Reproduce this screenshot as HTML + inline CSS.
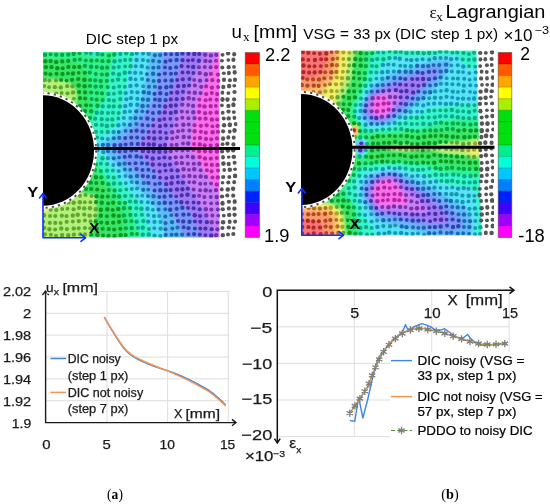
<!DOCTYPE html>
<html><head><meta charset="utf-8"><title>Figure</title>
<style>html,body{margin:0;padding:0;background:#fff;overflow:hidden}svg{display:block}
text{font-family:"Liberation Sans",sans-serif;fill:#000}
.ser{font-family:"Liberation Serif",serif}
.cal{fill:#1a1a1a;stroke:#1a1a1a;stroke-width:0.25px}
.leg{stroke:#000;stroke-width:0.2px}
</style></head><body>
<svg width="550" height="504" viewBox="0 0 550 504">
<rect width="550" height="504" fill="#fff"/>
<defs><filter id="bl" x="-5%" y="-5%" width="110%" height="110%"><feGaussianBlur stdDeviation="0.6"/></filter><filter id="bl2" x="-5%" y="-5%" width="110%" height="110%"><feGaussianBlur stdDeviation="0.9"/></filter></defs>
<!-- left DIC map -->
<clipPath id="cf1"><path d="M43,52 L219.5,52 L219.5,237.5 L43,237.5 Z"/></clipPath>
<clipPath id="cp1"><rect x="43" y="52" width="194.5" height="185.5"/></clipPath>
<g clip-path="url(#cf1)"><g filter="url(#bl2)"><path fill="#f0f06c" stroke="#f0f06c" stroke-width="0.4" fill-rule="evenodd" d="M42.5,96 51,99.8 59.5,102 60.3,103 60.4,104 59.2,107 52.4,119 48.5,128 45.7,138 44.1,149 44.1,159 45.3,169 47.5,179 52.6,196 53.3,200 53.3,203 52.5,206 50.5,209 42,214.8 42,95.8Z"/>
<path fill="#b4f07c" stroke="#b4f07c" stroke-width="0.4" fill-rule="evenodd" d="M43,78 61,80.2 67.8,82 71,84.1 74,87.1 76,90.3 77,93 77,98 76,104 74,107.9 64.9,122 60.2,133 58.1,143 57.9,153 59.2,161 61.9,169 65.6,176 71,183 77,188.8 83,192.8 86,193.9 94,194.5 95.3,195 96.3,196 96.5,198 96,203 97.4,210 97.3,213 93.5,224 92,230.6 89.2,239 42,239 42,214.8 50.5,209 52.5,206 53.4,202 52.6,196 47.3,178 45,167 44,155 44.6,144 46.4,135 49.3,126 52.4,119 59.2,107 60.4,104 60.3,103 59.5,102 51,99.8 42,95.8 42,78Z"/>
<path fill="#38e468" stroke="#38e468" stroke-width="0.4" fill-rule="evenodd" d="M43,70.8 60,71.8 70,73.3 76,75.7 77.3,77 78.8,80 81.4,92 81.1,102 79.6,108 72.7,123 69.4,133 67.7,143 68,152 69.4,158 71.7,164 74.7,169 78.7,174 83,178.1 88.1,182 102,189.4 104,191.3 105.2,212 104,217 100,225.1 99.8,228 100.5,239 89.2,239 92,230.6 93.5,224 97.3,213 97.4,210 96,203 96.5,198 96.3,196 95.3,195 94,194.5 86,193.9 83,192.8 77.3,189 72,184.1 67,178 63,171.4 60,164 58.3,157 57.8,146 59.6,135 61.6,129 64.4,123 74,107.9 76,104 77.1,97 76.7,92 75,88.5 73,86 70,83.3 67,81.7 60,80 42,78 42,70.7Z"/>
<path fill="#38e468" stroke="#38e468" stroke-width="0.4" fill-rule="evenodd" d="M43,64.6 62,65.5 73,67.6 76,68.7 79,70.5 81.3,73 83,76 84.4,81 85.1,87 85.5,95 85.2,102 84.2,108 79.5,122 76.9,133 75.7,143 76.3,151 78.8,159 82.9,166 96.5,181 104,187.6 106.5,191 112.4,210 113.2,214 113.2,218 111.6,229 112.8,239 100.5,239 99.8,228 100,225.1 104,217 105.2,212 104.4,194 103.9,191 101.4,189 93.1,185 88.1,182 79.7,175 76,170.8 72.8,166 70.4,161 68.6,155 67.6,145 69.1,134 72.3,124 79.6,108 81.3,101 81.6,96 81.3,91 78.4,79 77,76.6 75,75.1 69,73.1 59,71.7 42,70.7 42,64.5Z"/>
<path fill="#38e468" stroke="#38e468" stroke-width="0.4" fill-rule="evenodd" d="M43,58 64,58.9 78,62.5 81,64.3 83,66.4 88.3,76 89.3,79 89.9,83 90,103 89.2,108 85.8,120 83.5,138 83.1,146 84,152 85.7,157 88.4,162 95,170 109.7,192 113,198.1 123,212 123.8,215 124.7,223 127.3,239 112.8,239 111.6,229 113.2,218 113.2,214 112.4,210 106.5,191 104,187.6 96.5,181 83.7,167 79.7,161 77,154 75.7,145 76.5,135 79.2,123 84.2,108 85.3,101 85.5,94 84.9,85 83.9,79 82.5,75 81,72.5 78.3,70 76,68.7 72,67.4 62,65.5 42,64.5 42,57.8Z"/>
<path fill="#30f090" stroke="#30f090" stroke-width="0.4" fill-rule="evenodd" d="M43,51 72.9,51 82,52.5 93,55.8 96,56.2 99,55.5 105.8,51 114.3,51 115,52 115,55 112.7,63 106,99.1 105,101.1 94.1,115 93,117 93.7,130 90.3,142 90,148 91.3,153 95,160.3 109.7,181 111.2,185 115,188.4 123.2,200 128,205.2 130.6,209 133.1,215 140.5,239 127.3,239 124.7,223 123.8,215 123,212 113,198.1 109.7,192 95,170 88.4,162 84.6,154 83.1,147 83.3,140 85.8,120 89.2,108 90,103 89.9,82 89.3,79 87.8,75 83,66.4 81,64.3 78,62.5 64,58.9 42,57.8 42,51Z"/>
<path fill="#38f4d0" stroke="#38f4d0" stroke-width="0.4" fill-rule="evenodd" d="M73,51 105.8,51 99,55.5 96,56.2 93,55.8 82,52.5ZM115,51 134.1,51 124.2,97 120,114 118.8,122 116.7,125 99,139.7 96.1,144 95.9,148 98,151.9 137.2,200 142.3,207 145.7,214 152.6,239 140.5,239 133.1,215 130.6,209 128,205.2 123.2,200 115,188.4 111.2,185 109.7,181 95.4,161 91.8,154 90.1,149 90.1,143 93.7,130 93,117 94.1,115 105,101.1 106,99.1 112.7,63 115,55 115,52.1 114.3,51Z"/>
<path fill="#58e4f8" stroke="#58e4f8" stroke-width="0.4" fill-rule="evenodd" d="M135,51 151.1,51 141.3,100 128,124 109.8,139 102.4,144 101,146 102,148 150,199.9 153.2,204 158.4,213 166.8,239 152.6,239 145.7,214 142.3,207 137.2,200 98,151.9 95.9,148 96.1,144 99,139.7 116.7,125 118.8,122 120,114 124.2,97 134.1,51Z"/>
<path fill="#60bcf8" stroke="#60bcf8" stroke-width="0.4" fill-rule="evenodd" d="M151,52 151.1,51 164.3,51 152.8,100 138,124 118,142.5 113,146 112,148 113.3,150 119,155.2 161.1,199 166.4,205 172.6,214 184.9,239 166.8,239 158.4,213 153.2,204 150,199.9 102,148 101,146 102.4,144 109.8,139 128,124 140.3,102 142.1,97Z"/>
<path fill="#7c98f8" stroke="#7c98f8" stroke-width="0.4" fill-rule="evenodd" d="M165,51 185.4,51 168,100 152.3,125 141,141.6 137.3,146 136.6,148 136.8,149 138.1,151 142,154.9 173,195 190.6,212 201.7,239 184.9,239 172.6,214 166.4,205 161.1,199 119,155.2 113.3,150 112,148 113,146 118,142.5 138,124 152.3,101 153.7,97 164,52 164.3,51Z"/>
<path fill="#a07cf4" stroke="#a07cf4" stroke-width="0.4" fill-rule="evenodd" d="M186,51 206.3,51 205,54.4 183,100 168.8,139 166.2,145 165.7,148 167,150.9 170,155 204.1,211 215.8,239 201.7,239 190.6,212 172.2,194 142,154.9 137.3,150 136.6,148 137.3,146 141,141.6 153,124 168,100 185.4,51Z"/>
<path fill="#c880f4" stroke="#c880f4" stroke-width="0.4" fill-rule="evenodd" d="M206,52 206.3,51 218.4,51 208,80 198,100 192.5,138 191,145 191,148 192.4,151 196,156.3 219,195 232.8,239 215.8,239 204.1,211 170,155 167,150.9 165.7,148 166.2,145 168.8,139 183,100Z"/>
<path fill="#f870ec" stroke="#f870ec" stroke-width="0.4" fill-rule="evenodd" d="M219,51 236.2,51 217.9,147 219,150.3 223,156.3 239,183.3 239,239 232.8,239 219,195 196,156.3 192.4,151 191,147.9 191,145 192.5,138 198,100 208,80 218.4,51Z"/>
<path fill="#f870ec" stroke="#f870ec" stroke-width="0.4" fill-rule="evenodd" d="M237,51 239,51 239,183.3 223,156.3 219,150.3 217.9,147 235.8,53 236.2,51Z"/></g></g>
<g clip-path="url(#cp1)">
<g filter="url(#bl)">
<g fill="#07a73c"><circle cx="45" cy="54.8" r="2.2"/><circle cx="50.5" cy="54.3" r="1.9"/><circle cx="56.2" cy="54.8" r="2.1"/><circle cx="62.1" cy="54.9" r="2.1"/><circle cx="68.3" cy="54.7" r="2.1"/><circle cx="73.7" cy="53.7" r="2.2"/><circle cx="79.5" cy="53.3" r="1.9"/><circle cx="102.3" cy="54.5" r="2"/><circle cx="109" cy="55.4" r="2"/><circle cx="114.3" cy="54.5" r="2.2"/><circle cx="74.6" cy="59.9" r="2.1"/><circle cx="79.9" cy="59.6" r="2"/><circle cx="85.8" cy="60.4" r="1.9"/><circle cx="91.3" cy="60.7" r="2.1"/><circle cx="96.9" cy="60.4" r="1.9"/><circle cx="102.4" cy="61.2" r="2.1"/><circle cx="108.5" cy="61.1" r="2.2"/><circle cx="85" cy="65.9" r="2.1"/><circle cx="91.1" cy="66.7" r="2.2"/><circle cx="96.7" cy="67.1" r="2"/><circle cx="102" cy="67.8" r="2.2"/><circle cx="107.2" cy="67.7" r="2.1"/><circle cx="89.8" cy="72.6" r="2.1"/><circle cx="95.8" cy="74" r="1.9"/><circle cx="101.9" cy="74.4" r="2"/><circle cx="107" cy="74.5" r="2.2"/><circle cx="90.1" cy="80.1" r="2"/><circle cx="95.2" cy="80.3" r="2.1"/><circle cx="100.7" cy="80.9" r="2.2"/><circle cx="106.9" cy="80.9" r="2.1"/><circle cx="90" cy="86" r="2.1"/><circle cx="95.6" cy="86.6" r="2.2"/><circle cx="101.1" cy="86.6" r="2.1"/><circle cx="107.7" cy="87.1" r="2.1"/><circle cx="91.1" cy="92.5" r="2.1"/><circle cx="96.9" cy="93" r="2.1"/><circle cx="102" cy="93.4" r="2.1"/><circle cx="91.7" cy="99" r="1.9"/><circle cx="96.7" cy="99.7" r="2.1"/><circle cx="102.6" cy="100.1" r="2.1"/><circle cx="90.9" cy="105.4" r="2"/><circle cx="97.5" cy="105.7" r="2.2"/><circle cx="91.2" cy="111.3" r="2.2"/><circle cx="89.9" cy="117.9" r="2.1"/><circle cx="95.9" cy="164.4" r="2.1"/><circle cx="95.1" cy="170.1" r="2"/><circle cx="100.9" cy="170.9" r="1.9"/><circle cx="101.4" cy="177.4" r="2.1"/><circle cx="108.4" cy="184.2" r="2.1"/><circle cx="108.8" cy="190" r="1.9"/><circle cx="114.6" cy="190.4" r="2.1"/><circle cx="114" cy="196.2" r="2.2"/><circle cx="119.3" cy="196.5" r="2.2"/><circle cx="119.4" cy="203" r="2.1"/><circle cx="125" cy="202.8" r="2.1"/><circle cx="124" cy="208.3" r="2.2"/><circle cx="130.1" cy="208.1" r="2.1"/><circle cx="124" cy="215.4" r="2.2"/><circle cx="130.4" cy="214.9" r="2.1"/><circle cx="125.4" cy="221.3" r="2.2"/><circle cx="131.4" cy="221.2" r="1.9"/><circle cx="125.9" cy="228.3" r="2.1"/><circle cx="131.7" cy="228.1" r="2.2"/><circle cx="131.8" cy="233.9" r="2.1"/><circle cx="137.1" cy="234" r="1.9"/></g>
<g fill="#09ad7e"><circle cx="86.1" cy="53.1" r="2"/><circle cx="90.8" cy="53.4" r="2"/><circle cx="97.6" cy="54" r="2.2"/><circle cx="120.3" cy="53.9" r="2.1"/><circle cx="126.2" cy="53.4" r="2.1"/><circle cx="131.9" cy="54.2" r="2.1"/><circle cx="114.5" cy="61.2" r="2.2"/><circle cx="120.1" cy="60.7" r="2"/><circle cx="125.1" cy="60.1" r="2"/><circle cx="130.5" cy="59.8" r="2.1"/><circle cx="113.7" cy="67.6" r="2.1"/><circle cx="118.9" cy="67.1" r="2"/><circle cx="125.1" cy="66.3" r="1.9"/><circle cx="130.6" cy="66.3" r="2.2"/><circle cx="113.2" cy="73.6" r="2.1"/><circle cx="119" cy="74.4" r="2.2"/><circle cx="124.7" cy="72.8" r="2.2"/><circle cx="112.5" cy="80.5" r="2"/><circle cx="118.1" cy="79.6" r="2.2"/><circle cx="124.8" cy="80" r="2"/><circle cx="113.7" cy="87.4" r="2"/><circle cx="119.3" cy="86.6" r="2"/><circle cx="124.9" cy="86.8" r="2"/><circle cx="108.4" cy="93.9" r="2.2"/><circle cx="113.9" cy="93.7" r="1.9"/><circle cx="120.1" cy="92.6" r="2.2"/><circle cx="108.9" cy="100.1" r="2.1"/><circle cx="113.9" cy="100.5" r="2.1"/><circle cx="120.3" cy="99.1" r="2.2"/><circle cx="102.7" cy="106.4" r="2.1"/><circle cx="108.9" cy="106.4" r="2.1"/><circle cx="113.7" cy="106.4" r="2.1"/><circle cx="119.9" cy="106.4" r="2.2"/><circle cx="96.8" cy="112.8" r="2.2"/><circle cx="101.9" cy="112.8" r="2.2"/><circle cx="108" cy="113" r="2"/><circle cx="113" cy="112.8" r="2"/><circle cx="118.7" cy="112.9" r="2"/><circle cx="95.2" cy="118.7" r="2.1"/><circle cx="101.7" cy="119.2" r="2.1"/><circle cx="107.3" cy="119.4" r="2"/><circle cx="112.3" cy="119.4" r="2.1"/><circle cx="118.4" cy="118.5" r="1.9"/><circle cx="96" cy="124.7" r="2"/><circle cx="101.9" cy="125" r="2.1"/><circle cx="106.9" cy="126" r="2.2"/><circle cx="112.7" cy="125.5" r="2.1"/><circle cx="95.9" cy="131.9" r="2.1"/><circle cx="101.7" cy="131.9" r="1.9"/><circle cx="107.8" cy="132" r="2.2"/><circle cx="96.9" cy="137.5" r="2.1"/><circle cx="102.5" cy="158.3" r="2.2"/><circle cx="100.9" cy="163.7" r="1.9"/><circle cx="107.2" cy="164.1" r="2.1"/><circle cx="107.1" cy="170.7" r="2.1"/><circle cx="112.9" cy="170.6" r="2"/><circle cx="108.2" cy="177.1" r="2"/><circle cx="113.7" cy="177.7" r="2.1"/><circle cx="114" cy="183.5" r="2.2"/><circle cx="120.2" cy="183.6" r="2.1"/><circle cx="120.2" cy="190.2" r="2"/><circle cx="126.4" cy="189.4" r="1.9"/><circle cx="125.2" cy="196.1" r="2.1"/><circle cx="131.4" cy="195.8" r="2"/><circle cx="130" cy="201.5" r="2.1"/><circle cx="135.8" cy="201.7" r="2.2"/><circle cx="136.4" cy="208.3" r="2"/><circle cx="141.5" cy="208.8" r="2.2"/><circle cx="135.7" cy="214.9" r="1.9"/><circle cx="141.9" cy="214.8" r="2"/><circle cx="136.7" cy="221.6" r="2.2"/><circle cx="143.3" cy="221.1" r="2.1"/><circle cx="137.9" cy="227.9" r="2"/><circle cx="142.8" cy="227.7" r="2.2"/><circle cx="149" cy="229" r="1.9"/><circle cx="142.8" cy="234.6" r="2.2"/><circle cx="148.8" cy="234.5" r="2.2"/></g>
<g fill="#1697b2"><circle cx="136.7" cy="53.5" r="2"/><circle cx="143.1" cy="53.4" r="2"/><circle cx="148.7" cy="53.7" r="2.2"/><circle cx="136.6" cy="60" r="2.2"/><circle cx="142.9" cy="60" r="2"/><circle cx="148" cy="60.8" r="2"/><circle cx="135.7" cy="66.3" r="2"/><circle cx="141.8" cy="66.3" r="2.2"/><circle cx="147.6" cy="67.6" r="2.1"/><circle cx="129.8" cy="72.5" r="2.1"/><circle cx="135.2" cy="72.8" r="2.1"/><circle cx="141" cy="72.9" r="1.9"/><circle cx="130.5" cy="78.8" r="2.2"/><circle cx="135.6" cy="79.4" r="1.9"/><circle cx="142.1" cy="79" r="2.1"/><circle cx="130.4" cy="85.9" r="2.2"/><circle cx="136.6" cy="85.3" r="2.1"/><circle cx="143.1" cy="86.3" r="2"/><circle cx="125.7" cy="93.1" r="2.1"/><circle cx="131.7" cy="92" r="2"/><circle cx="137.4" cy="92.3" r="2.1"/><circle cx="126.3" cy="99.3" r="2.1"/><circle cx="131" cy="98.2" r="2.1"/><circle cx="137.4" cy="98.8" r="2.1"/><circle cx="125.3" cy="106.1" r="2.2"/><circle cx="130.8" cy="104.8" r="2.2"/><circle cx="137.3" cy="104.7" r="2.2"/><circle cx="124.7" cy="111.9" r="2.2"/><circle cx="130" cy="111.5" r="1.9"/><circle cx="123.8" cy="117.9" r="2"/><circle cx="130.4" cy="118.1" r="2.1"/><circle cx="118.4" cy="125.3" r="2.2"/><circle cx="124.2" cy="124.4" r="2.1"/><circle cx="113.6" cy="132" r="2.2"/><circle cx="102.3" cy="138.6" r="2"/><circle cx="107.8" cy="139" r="2"/><circle cx="97.5" cy="144.9" r="2"/><circle cx="97.6" cy="150.4" r="1.9"/><circle cx="103.3" cy="152" r="2.2"/><circle cx="107.9" cy="158.2" r="2.1"/><circle cx="113.3" cy="165" r="1.9"/><circle cx="118.7" cy="171" r="2.1"/><circle cx="119.3" cy="176.6" r="1.9"/><circle cx="125.4" cy="176.1" r="2"/><circle cx="125.8" cy="183.1" r="1.9"/><circle cx="131.7" cy="182.1" r="2"/><circle cx="131.8" cy="188.9" r="2"/><circle cx="137.1" cy="188.5" r="2.1"/><circle cx="137.1" cy="195.9" r="1.9"/><circle cx="142.2" cy="195.7" r="1.9"/><circle cx="141.5" cy="201.9" r="2"/><circle cx="147.9" cy="202.3" r="2"/><circle cx="147.5" cy="208.8" r="2.2"/><circle cx="152.9" cy="209.7" r="1.9"/><circle cx="148.1" cy="215.1" r="1.9"/><circle cx="153.9" cy="216.1" r="2.1"/><circle cx="159.2" cy="216.1" r="2"/><circle cx="148.2" cy="221.7" r="2.1"/><circle cx="154.5" cy="221.9" r="2.1"/><circle cx="160.4" cy="222.1" r="2"/><circle cx="154.3" cy="228.2" r="1.9"/><circle cx="160.6" cy="228.6" r="2.2"/><circle cx="154.5" cy="235.5" r="2.1"/><circle cx="160.4" cy="236" r="2.1"/></g>
<g fill="#1b67b2"><circle cx="154.9" cy="55.2" r="2"/><circle cx="160.1" cy="55.1" r="2.1"/><circle cx="153.1" cy="60.8" r="2"/><circle cx="159.2" cy="61.5" r="2"/><circle cx="153.3" cy="67.7" r="2"/><circle cx="158.6" cy="67.4" r="2.1"/><circle cx="146.9" cy="74.1" r="1.9"/><circle cx="153.1" cy="73.8" r="2.2"/><circle cx="147.9" cy="80" r="2"/><circle cx="153.6" cy="80.9" r="2"/><circle cx="149" cy="86.8" r="2"/><circle cx="154.8" cy="86.8" r="2"/><circle cx="143.7" cy="92.3" r="2.2"/><circle cx="148.9" cy="92.9" r="2.2"/><circle cx="142.8" cy="99.4" r="2.1"/><circle cx="148.1" cy="99.7" r="2.2"/><circle cx="142.6" cy="106" r="2.2"/><circle cx="148" cy="105.9" r="1.9"/><circle cx="136.3" cy="111.3" r="2.1"/><circle cx="142.3" cy="111.3" r="1.9"/><circle cx="135.5" cy="118.2" r="2.1"/><circle cx="141" cy="118.3" r="2"/><circle cx="130" cy="124.8" r="2.1"/><circle cx="136.4" cy="124" r="2.1"/><circle cx="118.8" cy="132" r="1.9"/><circle cx="125.6" cy="130.9" r="1.9"/><circle cx="113.8" cy="138.2" r="2"/><circle cx="119.3" cy="137.9" r="2.1"/><circle cx="102.9" cy="144.8" r="2.1"/><circle cx="108.1" cy="144.9" r="2.2"/><circle cx="108.1" cy="151.2" r="2"/><circle cx="114.2" cy="151.5" r="2.1"/><circle cx="113.7" cy="158.3" r="2.1"/><circle cx="119.1" cy="157.6" r="1.9"/><circle cx="119.2" cy="164.2" r="2.2"/><circle cx="124.6" cy="163.6" r="2.2"/><circle cx="124.9" cy="169.5" r="1.9"/><circle cx="130.3" cy="169.8" r="2"/><circle cx="130.6" cy="176.6" r="2.2"/><circle cx="137" cy="176" r="2.2"/><circle cx="137" cy="182.6" r="2"/><circle cx="143.7" cy="183" r="2.1"/><circle cx="143.2" cy="189.8" r="2.1"/><circle cx="148.3" cy="189.6" r="1.9"/><circle cx="148" cy="196.1" r="1.9"/><circle cx="153.6" cy="196.2" r="2.2"/><circle cx="152.8" cy="202.9" r="2"/><circle cx="159.2" cy="203.1" r="2.2"/><circle cx="158.6" cy="209.6" r="2"/><circle cx="165.3" cy="209.3" r="2"/><circle cx="165.3" cy="216.4" r="2"/><circle cx="171.3" cy="215.2" r="1.9"/><circle cx="165.5" cy="223.1" r="2.1"/><circle cx="172" cy="222.1" r="2.2"/><circle cx="165.5" cy="229.3" r="2"/><circle cx="172.3" cy="228.4" r="2"/><circle cx="177.5" cy="227.6" r="2.1"/><circle cx="165.7" cy="234.9" r="2.1"/><circle cx="171.6" cy="234.8" r="2"/><circle cx="176.4" cy="234.6" r="2.2"/><circle cx="182.1" cy="234.6" r="2.1"/></g>
<g fill="#2d43b2"><circle cx="165.6" cy="54.2" r="1.9"/><circle cx="171.2" cy="54.3" r="2"/><circle cx="177" cy="54.1" r="2.2"/><circle cx="182.4" cy="53.5" r="2.2"/><circle cx="165.5" cy="61.7" r="2.1"/><circle cx="170.4" cy="60.5" r="2.1"/><circle cx="176.6" cy="59.9" r="2.2"/><circle cx="165" cy="67.4" r="1.9"/><circle cx="170.2" cy="67.9" r="2"/><circle cx="176.1" cy="67.2" r="2"/><circle cx="159" cy="74.5" r="2.1"/><circle cx="164.9" cy="73.6" r="2.1"/><circle cx="171" cy="73.8" r="2"/><circle cx="175.9" cy="73.5" r="2.1"/><circle cx="159.1" cy="80.9" r="2.1"/><circle cx="165.4" cy="80.6" r="2"/><circle cx="171.6" cy="80.4" r="2.2"/><circle cx="160" cy="87.6" r="2.2"/><circle cx="166.3" cy="87.2" r="2.2"/><circle cx="171.2" cy="86.6" r="2.2"/><circle cx="154.5" cy="93.8" r="2.1"/><circle cx="160.2" cy="93.2" r="2.2"/><circle cx="166.5" cy="93.9" r="2"/><circle cx="154.9" cy="99.4" r="2"/><circle cx="159.6" cy="100" r="2.2"/><circle cx="165.6" cy="100.2" r="2.1"/><circle cx="154.2" cy="106.1" r="2"/><circle cx="159.5" cy="106.1" r="2"/><circle cx="147.5" cy="111.8" r="1.9"/><circle cx="152.9" cy="113.1" r="2"/><circle cx="159.3" cy="112.5" r="2.2"/><circle cx="147.4" cy="118.5" r="2.2"/><circle cx="153.2" cy="119.5" r="1.9"/><circle cx="142.4" cy="125" r="2"/><circle cx="148" cy="125.6" r="2"/><circle cx="131.2" cy="131" r="1.9"/><circle cx="136.6" cy="130.6" r="2.2"/><circle cx="142.7" cy="131.4" r="2.2"/><circle cx="125.2" cy="138" r="2"/><circle cx="131.3" cy="137.6" r="2.1"/><circle cx="137.1" cy="137.6" r="2"/><circle cx="143.1" cy="138.2" r="2"/><circle cx="114.5" cy="145.1" r="2.2"/><circle cx="120.4" cy="145.1" r="2.1"/><circle cx="125.6" cy="144.5" r="2"/><circle cx="131.5" cy="143.9" r="2.1"/><circle cx="137.8" cy="143.9" r="2.1"/><circle cx="119.5" cy="151.5" r="2"/><circle cx="125.3" cy="151.1" r="2.2"/><circle cx="131.3" cy="150.6" r="2.1"/><circle cx="136.2" cy="150.1" r="2.2"/><circle cx="124.7" cy="157" r="2"/><circle cx="130" cy="156.4" r="2.1"/><circle cx="136.6" cy="156.4" r="2.2"/><circle cx="141.2" cy="157.2" r="1.9"/><circle cx="129.5" cy="163.6" r="1.9"/><circle cx="135.5" cy="163.3" r="2"/><circle cx="141.9" cy="163.2" r="2"/><circle cx="147.3" cy="163.7" r="2.1"/><circle cx="136.5" cy="169.1" r="2.1"/><circle cx="142.5" cy="170.1" r="2"/><circle cx="148.4" cy="169.8" r="2"/><circle cx="153.8" cy="171" r="1.9"/><circle cx="142.8" cy="176.1" r="2.1"/><circle cx="148" cy="176.4" r="2"/><circle cx="154" cy="177" r="2.2"/><circle cx="148.4" cy="183" r="2.1"/><circle cx="155" cy="184.1" r="1.9"/><circle cx="159.8" cy="183.5" r="2.1"/><circle cx="154.5" cy="190.4" r="2"/><circle cx="160.3" cy="190.2" r="2.2"/><circle cx="165.8" cy="190.2" r="2.2"/><circle cx="159.3" cy="197" r="2"/><circle cx="164.5" cy="196.7" r="2.1"/><circle cx="170.7" cy="196" r="2.1"/><circle cx="164.7" cy="202.7" r="2.2"/><circle cx="170.6" cy="203" r="2"/><circle cx="176.4" cy="202" r="1.9"/><circle cx="170.2" cy="209.8" r="2.2"/><circle cx="176.7" cy="208.8" r="2.1"/><circle cx="182.4" cy="207.8" r="2.2"/><circle cx="176.6" cy="215" r="2"/><circle cx="183.4" cy="214.6" r="2.2"/><circle cx="188.8" cy="214.6" r="2"/><circle cx="178" cy="221.1" r="2"/><circle cx="183.2" cy="221.4" r="2.2"/><circle cx="189.5" cy="221.8" r="2.2"/><circle cx="183.6" cy="227.3" r="2"/><circle cx="188.5" cy="228.2" r="2.1"/><circle cx="194.9" cy="228.4" r="2"/><circle cx="188.5" cy="234.2" r="2"/><circle cx="194.1" cy="234.1" r="2.1"/><circle cx="199.8" cy="234.6" r="2.1"/></g>
<g fill="#4a2dad"><circle cx="188.4" cy="53.8" r="2.1"/><circle cx="194.3" cy="54" r="2.2"/><circle cx="199.2" cy="54" r="2.1"/><circle cx="182.5" cy="60.2" r="2.1"/><circle cx="188.1" cy="60.5" r="2"/><circle cx="192.8" cy="60" r="2"/><circle cx="198.9" cy="60.7" r="2.2"/><circle cx="181.6" cy="66.1" r="2.1"/><circle cx="188.1" cy="66.6" r="1.9"/><circle cx="193.2" cy="66.9" r="2.2"/><circle cx="182.5" cy="72.6" r="2"/><circle cx="188.1" cy="72.6" r="2"/><circle cx="193.4" cy="73.1" r="2"/><circle cx="177.2" cy="79.9" r="2"/><circle cx="182.8" cy="79.3" r="2.1"/><circle cx="189.4" cy="79.1" r="2"/><circle cx="178.1" cy="86.2" r="2.1"/><circle cx="183.9" cy="85.9" r="2.1"/><circle cx="189.1" cy="85.5" r="2.1"/><circle cx="171.3" cy="92.8" r="2"/><circle cx="177.3" cy="92.5" r="2.2"/><circle cx="183" cy="91.7" r="2"/><circle cx="170.8" cy="99.4" r="2.1"/><circle cx="176.7" cy="99.2" r="2.1"/><circle cx="182.8" cy="98.9" r="2.1"/><circle cx="165.2" cy="106.5" r="2.2"/><circle cx="170.8" cy="105.8" r="2.2"/><circle cx="175.9" cy="105.4" r="2.1"/><circle cx="164.8" cy="112.4" r="2.2"/><circle cx="170.8" cy="112.9" r="2.1"/><circle cx="175.8" cy="111.9" r="2.2"/><circle cx="159.5" cy="119.9" r="2.1"/><circle cx="164.3" cy="119" r="1.9"/><circle cx="170.3" cy="118.8" r="1.9"/><circle cx="153.2" cy="125.4" r="2"/><circle cx="159.9" cy="126.2" r="2.1"/><circle cx="165.6" cy="125.4" r="2.1"/><circle cx="171.5" cy="125.7" r="1.9"/><circle cx="148.5" cy="131.8" r="1.9"/><circle cx="154.1" cy="131.9" r="2"/><circle cx="160.1" cy="132" r="2"/><circle cx="165.9" cy="132.8" r="1.9"/><circle cx="148.8" cy="137.8" r="2.1"/><circle cx="154.3" cy="138.5" r="2.2"/><circle cx="160.4" cy="138.3" r="2"/><circle cx="166.6" cy="138.3" r="2"/><circle cx="143.2" cy="144.1" r="2.1"/><circle cx="148.8" cy="144.4" r="2.2"/><circle cx="153.8" cy="144.5" r="2.2"/><circle cx="160.2" cy="145.6" r="2.2"/><circle cx="165.1" cy="144.9" r="2.1"/><circle cx="142.9" cy="150.9" r="2.2"/><circle cx="148.5" cy="151.6" r="1.9"/><circle cx="153.6" cy="151.6" r="2.1"/><circle cx="159.4" cy="151.8" r="2.2"/><circle cx="165.5" cy="151.7" r="2"/><circle cx="146.9" cy="157.1" r="2"/><circle cx="152.7" cy="158.5" r="2.2"/><circle cx="159" cy="158.2" r="1.9"/><circle cx="164.4" cy="157.5" r="2.1"/><circle cx="170" cy="158" r="1.9"/><circle cx="152.8" cy="164.5" r="2.2"/><circle cx="159.5" cy="164.5" r="2.1"/><circle cx="164.8" cy="165" r="2.2"/><circle cx="170" cy="164.6" r="2.1"/><circle cx="159.7" cy="171.5" r="2"/><circle cx="165.6" cy="170.6" r="1.9"/><circle cx="171.4" cy="170.2" r="2"/><circle cx="177.6" cy="170.4" r="2.2"/><circle cx="160" cy="177.8" r="2"/><circle cx="166.3" cy="177.9" r="2"/><circle cx="172.1" cy="177.2" r="2.2"/><circle cx="177.7" cy="176.7" r="1.9"/><circle cx="166.1" cy="184.2" r="2.1"/><circle cx="171.5" cy="183.2" r="2.2"/><circle cx="178" cy="182.5" r="2"/><circle cx="182.9" cy="182.6" r="2.2"/><circle cx="170.7" cy="190.1" r="2.1"/><circle cx="177" cy="189.4" r="2.2"/><circle cx="182.4" cy="189.3" r="2.2"/><circle cx="187.8" cy="188.7" r="2.1"/><circle cx="176.2" cy="196.3" r="1.9"/><circle cx="181.7" cy="195.4" r="2.1"/><circle cx="187.5" cy="194.8" r="2.2"/><circle cx="193.9" cy="196" r="2.1"/><circle cx="181.3" cy="202.3" r="2.2"/><circle cx="187.2" cy="202.4" r="2"/><circle cx="193.6" cy="202.5" r="1.9"/><circle cx="198.7" cy="202.7" r="2"/><circle cx="188" cy="208.1" r="2"/><circle cx="193.6" cy="208.3" r="2"/><circle cx="199.7" cy="209.3" r="2"/><circle cx="194.7" cy="215.2" r="2.2"/><circle cx="200" cy="216" r="2.1"/><circle cx="194.9" cy="221.5" r="2.1"/><circle cx="200.3" cy="221.8" r="2.1"/><circle cx="206.9" cy="222.1" r="2.2"/><circle cx="200.3" cy="228.4" r="2"/><circle cx="205.4" cy="228.6" r="2.1"/><circle cx="211.6" cy="229.2" r="2.1"/><circle cx="205.4" cy="235.1" r="1.9"/><circle cx="211.2" cy="235.5" r="2.2"/></g>
<g fill="#7430ad"><circle cx="205.2" cy="54.8" r="2.2"/><circle cx="210.9" cy="55.4" r="2.2"/><circle cx="216.2" cy="54.9" r="2.1"/><circle cx="205.4" cy="60.9" r="2.2"/><circle cx="210.2" cy="61.3" r="2"/><circle cx="199" cy="67.2" r="2"/><circle cx="204.8" cy="67.1" r="2"/><circle cx="210.6" cy="67.3" r="2"/><circle cx="199.7" cy="73.2" r="2.1"/><circle cx="205.8" cy="74.2" r="2.2"/><circle cx="194.2" cy="79.9" r="1.9"/><circle cx="200" cy="80.6" r="2.2"/><circle cx="206.6" cy="80.2" r="2"/><circle cx="194.9" cy="85.5" r="2"/><circle cx="201.2" cy="86.8" r="2.1"/><circle cx="189" cy="92.5" r="2.1"/><circle cx="194.8" cy="92.8" r="2.2"/><circle cx="200.6" cy="93.1" r="2.1"/><circle cx="188.7" cy="98.2" r="2.2"/><circle cx="193.6" cy="99.1" r="2"/><circle cx="182.2" cy="104.6" r="2.2"/><circle cx="188.2" cy="105" r="1.9"/><circle cx="193.1" cy="105.9" r="2.1"/><circle cx="181.8" cy="111.6" r="2"/><circle cx="187.3" cy="111.9" r="1.9"/><circle cx="193.3" cy="112.3" r="2.2"/><circle cx="176.8" cy="119" r="2"/><circle cx="182.3" cy="117.7" r="2"/><circle cx="188.4" cy="118.2" r="2"/><circle cx="194.5" cy="118.1" r="2.2"/><circle cx="176.5" cy="125.3" r="2"/><circle cx="183.3" cy="124.8" r="2.2"/><circle cx="188.7" cy="124.4" r="2"/><circle cx="172.1" cy="132.2" r="2.2"/><circle cx="178.1" cy="131.2" r="2"/><circle cx="182.8" cy="130.5" r="2"/><circle cx="189.4" cy="130.6" r="2"/><circle cx="172.3" cy="138.5" r="2"/><circle cx="177.1" cy="137.3" r="2"/><circle cx="183.7" cy="136.9" r="2.2"/><circle cx="189.1" cy="137.3" r="2"/><circle cx="171.6" cy="145" r="2"/><circle cx="176.6" cy="144.8" r="2"/><circle cx="183.1" cy="143.4" r="1.9"/><circle cx="188.2" cy="143.4" r="2.2"/><circle cx="170.7" cy="151.3" r="2.1"/><circle cx="176.6" cy="150.1" r="2.1"/><circle cx="182.4" cy="150.6" r="2"/><circle cx="187.8" cy="150.2" r="2"/><circle cx="175.7" cy="157.3" r="2.1"/><circle cx="181.6" cy="157.2" r="1.9"/><circle cx="187.5" cy="156.4" r="1.9"/><circle cx="193" cy="157.3" r="2.2"/><circle cx="176.5" cy="163.2" r="2.2"/><circle cx="181.9" cy="163.1" r="2.2"/><circle cx="187.8" cy="163.7" r="2"/><circle cx="193.8" cy="163.8" r="2"/><circle cx="199.4" cy="163.8" r="2.2"/><circle cx="183.5" cy="169.2" r="2.2"/><circle cx="189" cy="169.8" r="1.9"/><circle cx="194.2" cy="169.3" r="2.2"/><circle cx="200.6" cy="170.2" r="2"/><circle cx="183.6" cy="176.2" r="2"/><circle cx="189.4" cy="175.9" r="2.2"/><circle cx="194.9" cy="176.5" r="2"/><circle cx="200.7" cy="176.4" r="2.2"/><circle cx="205.9" cy="176.9" r="2.1"/><circle cx="189.2" cy="182.1" r="1.9"/><circle cx="194.1" cy="182.3" r="2.1"/><circle cx="200.3" cy="183.8" r="2"/><circle cx="205.3" cy="183.7" r="1.9"/><circle cx="211.1" cy="183.4" r="1.9"/><circle cx="193.6" cy="189.5" r="2"/><circle cx="200.1" cy="190.2" r="2"/><circle cx="205.7" cy="190.2" r="2.2"/><circle cx="210.4" cy="190.8" r="1.9"/><circle cx="216" cy="190.1" r="2.2"/><circle cx="199.1" cy="195.7" r="2"/><circle cx="204.4" cy="197.1" r="2"/><circle cx="210.8" cy="196.9" r="2"/><circle cx="216.7" cy="197" r="2.2"/><circle cx="204.7" cy="202.8" r="1.9"/><circle cx="211.2" cy="203.3" r="1.9"/><circle cx="217.1" cy="203.3" r="2"/><circle cx="205.8" cy="209.3" r="2.2"/><circle cx="211.4" cy="209.5" r="2.1"/><circle cx="217.8" cy="209.6" r="2"/><circle cx="206.3" cy="215.4" r="2.2"/><circle cx="212.4" cy="215.6" r="2"/><circle cx="218.2" cy="215.6" r="1.9"/><circle cx="211.7" cy="222.2" r="2.2"/><circle cx="217.4" cy="222.4" r="2"/><circle cx="217.4" cy="229.3" r="2.1"/><circle cx="216.1" cy="235.1" r="2.2"/></g>
<g fill="#09971f"><circle cx="45.4" cy="61.2" r="2.2"/><circle cx="50.6" cy="61.1" r="2.1"/><circle cx="56.2" cy="61.9" r="2.2"/><circle cx="62.3" cy="61.4" r="2.1"/><circle cx="68.2" cy="60.9" r="2.1"/><circle cx="45.9" cy="67.1" r="2.2"/><circle cx="51.5" cy="67.2" r="2.1"/><circle cx="57.3" cy="68.3" r="2.2"/><circle cx="62.7" cy="68.3" r="2"/><circle cx="68.4" cy="66.9" r="2.1"/><circle cx="74.1" cy="67.1" r="2.1"/><circle cx="79.4" cy="66.9" r="2.1"/><circle cx="45.5" cy="73.6" r="2"/><circle cx="50.4" cy="74.2" r="2"/><circle cx="56.5" cy="73.8" r="2"/><circle cx="62.5" cy="74" r="2.2"/><circle cx="68" cy="73.4" r="1.9"/><circle cx="73" cy="73.5" r="2.2"/><circle cx="78.7" cy="72.8" r="1.9"/><circle cx="84.8" cy="72.8" r="2.1"/><circle cx="61.1" cy="80" r="2"/><circle cx="66.6" cy="80.6" r="1.9"/><circle cx="72.1" cy="79.8" r="2.1"/><circle cx="78.3" cy="79" r="2.1"/><circle cx="84.4" cy="79.7" r="2.2"/><circle cx="78.7" cy="85.5" r="2.2"/><circle cx="84.6" cy="86.2" r="2.2"/><circle cx="79.1" cy="92.1" r="2.1"/><circle cx="85.1" cy="92.4" r="2.1"/><circle cx="80" cy="98.2" r="2.1"/><circle cx="85.1" cy="98.5" r="2.1"/><circle cx="79.9" cy="105.7" r="2"/><circle cx="86.1" cy="105.3" r="2"/><circle cx="85" cy="111.1" r="2.2"/><circle cx="96" cy="177.2" r="2.2"/><circle cx="90.8" cy="182.6" r="2.2"/><circle cx="96.3" cy="183" r="2"/><circle cx="102.6" cy="183.1" r="2.1"/><circle cx="86" cy="189.1" r="2"/><circle cx="91.2" cy="189" r="2.1"/><circle cx="97.3" cy="189.5" r="2.1"/><circle cx="102.9" cy="190.6" r="1.9"/><circle cx="96.5" cy="196.2" r="2.2"/><circle cx="102.2" cy="196.6" r="2.2"/><circle cx="107.8" cy="196.5" r="1.9"/><circle cx="96" cy="202.1" r="2.1"/><circle cx="101.8" cy="202.7" r="2.2"/><circle cx="108.1" cy="203.3" r="1.9"/><circle cx="113.2" cy="202.7" r="2.1"/><circle cx="100.9" cy="209.8" r="2.2"/><circle cx="107.3" cy="209.3" r="2.2"/><circle cx="112.7" cy="209.9" r="1.9"/><circle cx="118.3" cy="208.9" r="2.2"/><circle cx="100.9" cy="215.8" r="2.2"/><circle cx="106.9" cy="216.2" r="2"/><circle cx="113.5" cy="215.5" r="2.2"/><circle cx="118.9" cy="216" r="2.1"/><circle cx="95.8" cy="221.4" r="2.2"/><circle cx="101.3" cy="222.6" r="2"/><circle cx="107.1" cy="222.9" r="2.1"/><circle cx="113.2" cy="222.7" r="2.1"/><circle cx="119.1" cy="221.8" r="2.1"/><circle cx="97" cy="228.6" r="1.9"/><circle cx="102.6" cy="228.8" r="2"/><circle cx="108.8" cy="229" r="2"/><circle cx="114.1" cy="229.5" r="2.1"/><circle cx="120.4" cy="228.7" r="2"/><circle cx="91.1" cy="234.8" r="2"/><circle cx="97.4" cy="234.7" r="2.2"/><circle cx="103" cy="235.6" r="2"/><circle cx="108.5" cy="235.9" r="2.1"/><circle cx="114.5" cy="235.9" r="2.1"/><circle cx="120.6" cy="235.1" r="2.2"/><circle cx="125.7" cy="235.1" r="2"/></g>
<g fill="#b224a2"><circle cx="216" cy="60.7" r="2"/><circle cx="216.2" cy="67.1" r="2.2"/><circle cx="210.9" cy="73.9" r="2.1"/><circle cx="217.9" cy="74.6" r="2.1"/><circle cx="212.3" cy="80.2" r="2.1"/><circle cx="218.4" cy="80.7" r="2"/><circle cx="206.1" cy="86.4" r="2.1"/><circle cx="211.9" cy="87.6" r="2.2"/><circle cx="218.1" cy="86.9" r="2"/><circle cx="206.2" cy="94" r="2.1"/><circle cx="211.8" cy="93.1" r="2"/><circle cx="217.2" cy="94.1" r="2.1"/><circle cx="199.3" cy="99.4" r="2"/><circle cx="205.6" cy="100.2" r="2"/><circle cx="210.3" cy="99.5" r="2"/><circle cx="216.7" cy="99.8" r="2.1"/><circle cx="199.5" cy="105.7" r="2.1"/><circle cx="204.5" cy="106.4" r="2.2"/><circle cx="210.7" cy="106.1" r="2.2"/><circle cx="215.9" cy="105.9" r="1.9"/><circle cx="199.1" cy="112.1" r="2.1"/><circle cx="205.1" cy="113.2" r="2.1"/><circle cx="210.5" cy="112.8" r="2.1"/><circle cx="216.7" cy="112.5" r="2.2"/><circle cx="199.8" cy="118.6" r="2.1"/><circle cx="205.6" cy="118.7" r="2.1"/><circle cx="211.9" cy="119.5" r="2.2"/><circle cx="217.1" cy="119.4" r="2"/><circle cx="194.5" cy="125.2" r="2.1"/><circle cx="200.9" cy="125.8" r="2.1"/><circle cx="206.6" cy="125.3" r="2.1"/><circle cx="212.4" cy="126.3" r="1.9"/><circle cx="217.6" cy="125.9" r="2.1"/><circle cx="194.6" cy="131.2" r="2.2"/><circle cx="200.9" cy="131.8" r="2"/><circle cx="205.8" cy="132.7" r="2.1"/><circle cx="212.6" cy="132.2" r="2.2"/><circle cx="217.9" cy="131.8" r="2.1"/><circle cx="194.5" cy="138.1" r="1.9"/><circle cx="200" cy="137.9" r="2.2"/><circle cx="206" cy="138.9" r="2.1"/><circle cx="211.3" cy="139.2" r="2"/><circle cx="217" cy="138.4" r="2.1"/><circle cx="194" cy="144" r="1.9"/><circle cx="199.8" cy="144.4" r="2.2"/><circle cx="204.7" cy="145.3" r="2.1"/><circle cx="210.7" cy="145.5" r="2.1"/><circle cx="217.1" cy="145.1" r="2.2"/><circle cx="193.5" cy="149.9" r="2"/><circle cx="199.1" cy="151.2" r="2.1"/><circle cx="205" cy="151.3" r="2.1"/><circle cx="210.6" cy="151.4" r="2.1"/><circle cx="216.9" cy="151.4" r="2.2"/><circle cx="199.6" cy="157.1" r="2.2"/><circle cx="205" cy="158.4" r="2.2"/><circle cx="210.9" cy="158.6" r="2.1"/><circle cx="216.8" cy="158.1" r="2"/><circle cx="206" cy="164.5" r="2.1"/><circle cx="211.8" cy="164.9" r="2.1"/><circle cx="217.5" cy="164.9" r="2.2"/><circle cx="206.8" cy="170.3" r="2"/><circle cx="211.6" cy="171.2" r="2"/><circle cx="218" cy="170.5" r="1.9"/><circle cx="212.4" cy="177.5" r="2.1"/><circle cx="217.8" cy="177.4" r="2.2"/><circle cx="216.8" cy="184.4" r="2.2"/></g>
<g fill="#5ea72d"><circle cx="44.8" cy="79.9" r="2.2"/><circle cx="49.4" cy="80.6" r="2"/><circle cx="56" cy="80.5" r="2"/><circle cx="44.1" cy="85.9" r="2"/><circle cx="49.1" cy="87.2" r="1.9"/><circle cx="54.9" cy="87.2" r="2.1"/><circle cx="60.8" cy="87.4" r="2.2"/><circle cx="67.2" cy="86.2" r="2.1"/><circle cx="72.4" cy="86.4" r="2.1"/><circle cx="56.2" cy="93.4" r="2"/><circle cx="61.6" cy="93" r="1.9"/><circle cx="67.5" cy="93.3" r="2.1"/><circle cx="73" cy="92.4" r="2.2"/><circle cx="73.9" cy="98.6" r="1.9"/><circle cx="79.9" cy="195.8" r="2.1"/><circle cx="85.5" cy="195" r="2"/><circle cx="91.6" cy="196.1" r="2"/><circle cx="68.6" cy="202.4" r="2.1"/><circle cx="73.7" cy="202.7" r="2.2"/><circle cx="79.8" cy="202.2" r="2.2"/><circle cx="84.8" cy="202.2" r="1.9"/><circle cx="90.4" cy="202.2" r="1.9"/><circle cx="50.7" cy="209.7" r="2"/><circle cx="56.3" cy="210.1" r="2.1"/><circle cx="62.2" cy="209.1" r="2"/><circle cx="67.5" cy="208.7" r="1.9"/><circle cx="73.6" cy="209.3" r="2.1"/><circle cx="79.1" cy="207.9" r="2.1"/><circle cx="84.2" cy="208.4" r="2.2"/><circle cx="90" cy="208.3" r="2.2"/><circle cx="95.8" cy="209.3" r="2.2"/><circle cx="44.1" cy="215.3" r="2.2"/><circle cx="50" cy="216.1" r="2"/><circle cx="55.3" cy="216" r="2.1"/><circle cx="61.8" cy="215.7" r="2.1"/><circle cx="66.5" cy="216.1" r="2.1"/><circle cx="72.8" cy="215.5" r="2.2"/><circle cx="77.7" cy="214.8" r="2.2"/><circle cx="84.3" cy="214.6" r="2.1"/><circle cx="89.7" cy="215.6" r="2.2"/><circle cx="95.2" cy="215.5" r="2.1"/><circle cx="43.3" cy="221.8" r="2"/><circle cx="49.8" cy="222.8" r="2.1"/><circle cx="55.3" cy="222.9" r="2.1"/><circle cx="60.6" cy="223" r="2"/><circle cx="66.7" cy="221.8" r="2.1"/><circle cx="72.8" cy="221.5" r="1.9"/><circle cx="78.8" cy="221.1" r="2.2"/><circle cx="84.9" cy="220.6" r="2"/><circle cx="90.5" cy="221.2" r="1.9"/><circle cx="44.2" cy="227.9" r="2.1"/><circle cx="49.4" cy="229.3" r="2.2"/><circle cx="55.1" cy="229.4" r="2"/><circle cx="61.3" cy="228.5" r="2.2"/><circle cx="66.9" cy="229.1" r="2.1"/><circle cx="73.7" cy="228.4" r="2.2"/><circle cx="78.7" cy="228.3" r="2.1"/><circle cx="84.9" cy="228" r="2.1"/><circle cx="90.3" cy="228.2" r="2"/><circle cx="44.8" cy="234.4" r="2.1"/><circle cx="50.9" cy="234.7" r="2"/><circle cx="56" cy="235.8" r="2"/><circle cx="62.1" cy="235.1" r="2.2"/><circle cx="68.2" cy="235.2" r="2.2"/><circle cx="73.9" cy="234.6" r="2.2"/><circle cx="80.1" cy="234.3" r="2"/><circle cx="85" cy="234.3" r="2.1"/></g>
<g fill="#555"><ellipse cx="222.5" cy="54.8" rx="2" ry="1.9"/><ellipse cx="228.1" cy="53.3" rx="2.2" ry="2.3"/><ellipse cx="234.2" cy="54.2" rx="2" ry="2.2"/><ellipse cx="221.9" cy="60.8" rx="2" ry="1.8"/><ellipse cx="228.3" cy="60.1" rx="1.9" ry="1.8"/><ellipse cx="233.4" cy="59.8" rx="2.1" ry="2.2"/><ellipse cx="222.3" cy="67.5" rx="2" ry="2"/><ellipse cx="228.7" cy="67.2" rx="2.1" ry="2.1"/><ellipse cx="234" cy="66.9" rx="1.9" ry="1.9"/><ellipse cx="223.8" cy="73.3" rx="2" ry="1.8"/><ellipse cx="228.9" cy="73" rx="2" ry="2.2"/><ellipse cx="234.7" cy="72.3" rx="2.1" ry="2.4"/><ellipse cx="224" cy="79.7" rx="2.1" ry="2.3"/><ellipse cx="229.9" cy="80.2" rx="2" ry="2"/><ellipse cx="235" cy="79.8" rx="2.1" ry="2.2"/><ellipse cx="223.3" cy="87" rx="2.1" ry="2.3"/><ellipse cx="229.1" cy="86.1" rx="2.2" ry="2.3"/><ellipse cx="234.3" cy="85.7" rx="2" ry="1.8"/><ellipse cx="222.4" cy="92.7" rx="1.9" ry="2.1"/><ellipse cx="228.4" cy="93.1" rx="2" ry="1.9"/><ellipse cx="234.5" cy="92" rx="2.2" ry="2"/><ellipse cx="222.5" cy="99.5" rx="2.2" ry="2.4"/><ellipse cx="227.5" cy="99.6" rx="2.2" ry="2.3"/><ellipse cx="234.1" cy="99.3" rx="2.1" ry="2.1"/><ellipse cx="221.9" cy="105.4" rx="1.9" ry="1.8"/><ellipse cx="228.4" cy="105.9" rx="2.1" ry="2.2"/><ellipse cx="233.4" cy="104.7" rx="2.2" ry="2.5"/><ellipse cx="222.7" cy="112.7" rx="1.9" ry="2"/><ellipse cx="228.5" cy="111.5" rx="2.2" ry="2.1"/><ellipse cx="233.8" cy="112.1" rx="2" ry="1.9"/><ellipse cx="223.7" cy="118.5" rx="2" ry="2"/><ellipse cx="228.7" cy="118.4" rx="2.2" ry="2.2"/><ellipse cx="234.4" cy="117.9" rx="1.9" ry="2.1"/><ellipse cx="224.1" cy="125.2" rx="2.2" ry="2.2"/><ellipse cx="229.8" cy="124.8" rx="2.3" ry="2.5"/><ellipse cx="235.7" cy="124.1" rx="1.9" ry="2.2"/><ellipse cx="223.1" cy="131.3" rx="2.1" ry="2.1"/><ellipse cx="229.7" cy="131.6" rx="1.9" ry="2.1"/><ellipse cx="234.5" cy="130.5" rx="2.2" ry="2.4"/><ellipse cx="223.1" cy="138.6" rx="2.1" ry="2.3"/><ellipse cx="228.3" cy="137.4" rx="2" ry="2.2"/><ellipse cx="233.7" cy="137.7" rx="2" ry="2.1"/><ellipse cx="222.6" cy="144.2" rx="1.9" ry="1.9"/><ellipse cx="227.4" cy="143.7" rx="2.2" ry="2.1"/><ellipse cx="233.4" cy="144.4" rx="2.1" ry="2.1"/><ellipse cx="222.1" cy="151.5" rx="2.1" ry="1.9"/><ellipse cx="227.9" cy="150.5" rx="2.2" ry="2.3"/><ellipse cx="233.2" cy="150.2" rx="2.2" ry="2.4"/><ellipse cx="223" cy="157.2" rx="1.9" ry="2.2"/><ellipse cx="228.7" cy="157.1" rx="1.9" ry="1.7"/><ellipse cx="233.8" cy="156.9" rx="2.3" ry="2.1"/><ellipse cx="223.4" cy="163.6" rx="2.3" ry="2.3"/><ellipse cx="228.7" cy="164" rx="2.1" ry="2.2"/><ellipse cx="234.6" cy="162.8" rx="2" ry="2"/><ellipse cx="224.2" cy="170" rx="1.9" ry="2.1"/><ellipse cx="229.8" cy="169.7" rx="2.3" ry="2.2"/><ellipse cx="235" cy="169.2" rx="1.9" ry="1.7"/><ellipse cx="223.2" cy="176.9" rx="2.1" ry="2"/><ellipse cx="229.3" cy="177" rx="2" ry="2"/><ellipse cx="235.1" cy="175.9" rx="2.3" ry="2.4"/><ellipse cx="222.5" cy="182.8" rx="1.9" ry="1.8"/><ellipse cx="228.3" cy="182.5" rx="2.1" ry="2"/><ellipse cx="234.2" cy="182.2" rx="1.9" ry="2.1"/><ellipse cx="221.8" cy="189.4" rx="1.9" ry="2.1"/><ellipse cx="227.8" cy="189.5" rx="2.3" ry="2.2"/><ellipse cx="233.1" cy="188.7" rx="2.2" ry="2.3"/><ellipse cx="222" cy="196.4" rx="2.2" ry="2"/><ellipse cx="227.3" cy="195.6" rx="2.1" ry="2"/><ellipse cx="233.2" cy="195.7" rx="2.1" ry="2.1"/><ellipse cx="222.5" cy="203.3" rx="2.2" ry="2.5"/><ellipse cx="228.9" cy="201.7" rx="2.1" ry="2"/><ellipse cx="234.7" cy="201.7" rx="2.1" ry="2.4"/><ellipse cx="222.7" cy="209.2" rx="2.2" ry="2"/><ellipse cx="228.8" cy="208.4" rx="2" ry="2.2"/><ellipse cx="234.4" cy="208.7" rx="2.2" ry="2.1"/><ellipse cx="223.8" cy="215.6" rx="1.9" ry="1.9"/><ellipse cx="229.2" cy="214.9" rx="2.2" ry="2.2"/><ellipse cx="234.6" cy="214.8" rx="2.2" ry="2.1"/><ellipse cx="223.1" cy="222.2" rx="2.3" ry="2.2"/><ellipse cx="229.7" cy="221.8" rx="2" ry="2.3"/><ellipse cx="235.1" cy="221.6" rx="2" ry="2.1"/><ellipse cx="222.4" cy="228" rx="2.1" ry="2"/><ellipse cx="228.8" cy="227.5" rx="2.1" ry="2"/><ellipse cx="233.7" cy="228" rx="1.9" ry="1.8"/><ellipse cx="222.8" cy="235.3" rx="2.2" ry="2.2"/><ellipse cx="228" cy="234.5" rx="2" ry="2"/><ellipse cx="233.3" cy="234" rx="2.1" ry="2"/></g>
</g>
<ellipse cx="43" cy="150.5" rx="52" ry="56.3" fill="#000" stroke="#fff" stroke-width="4.4"/>
<ellipse cx="43" cy="150.5" rx="53.1" ry="57.4" fill="none" stroke="#4a4a4a" stroke-width="1.9" stroke-dasharray="2.2 4.1"/>
<ellipse cx="43" cy="150.5" rx="51" ry="55.3" fill="#000"/>
</g>
<line x1="93.5" y1="148.5" x2="240" y2="148.5" stroke="#000" stroke-width="2.9"/>
<rect x="245.2" y="52.6" width="14.3" height="11.7" fill="#ff0000"/>
<rect x="245.2" y="64.1" width="14.3" height="11.7" fill="#ff5a00"/>
<rect x="245.2" y="75.7" width="14.3" height="11.7" fill="#ffa500"/>
<rect x="245.2" y="87.2" width="14.3" height="11.7" fill="#ffff00"/>
<rect x="245.2" y="98.8" width="14.3" height="11.7" fill="#a8f000"/>
<rect x="245.2" y="110.3" width="14.3" height="11.7" fill="#00e010"/>
<rect x="245.2" y="121.9" width="14.3" height="11.7" fill="#00e010"/>
<rect x="245.2" y="133.4" width="14.3" height="11.7" fill="#00e010"/>
<rect x="245.2" y="144.9" width="14.3" height="11.7" fill="#00f090"/>
<rect x="245.2" y="156.5" width="14.3" height="11.7" fill="#00ffd8"/>
<rect x="245.2" y="168" width="14.3" height="11.7" fill="#00c8ff"/>
<rect x="245.2" y="179.6" width="14.3" height="11.7" fill="#0080ff"/>
<rect x="245.2" y="191.1" width="14.3" height="11.7" fill="#0020ff"/>
<rect x="245.2" y="202.7" width="14.3" height="11.7" fill="#4000ff"/>
<rect x="245.2" y="214.2" width="14.3" height="11.7" fill="#a000ff"/>
<rect x="245.2" y="225.8" width="14.3" height="11.7" fill="#ff00ff"/>
<line x1="245.2" x2="259.5" y1="64.1" y2="64.1" stroke="#000" stroke-opacity="0.35" stroke-width="0.6"/>
<line x1="245.2" x2="259.5" y1="75.7" y2="75.7" stroke="#000" stroke-opacity="0.35" stroke-width="0.6"/>
<line x1="245.2" x2="259.5" y1="87.2" y2="87.2" stroke="#000" stroke-opacity="0.35" stroke-width="0.6"/>
<line x1="245.2" x2="259.5" y1="98.8" y2="98.8" stroke="#000" stroke-opacity="0.35" stroke-width="0.6"/>
<line x1="245.2" x2="259.5" y1="110.3" y2="110.3" stroke="#000" stroke-opacity="0.35" stroke-width="0.6"/>
<line x1="245.2" x2="259.5" y1="121.9" y2="121.9" stroke="#000" stroke-opacity="0.35" stroke-width="0.6"/>
<line x1="245.2" x2="259.5" y1="133.4" y2="133.4" stroke="#000" stroke-opacity="0.35" stroke-width="0.6"/>
<line x1="245.2" x2="259.5" y1="144.9" y2="144.9" stroke="#000" stroke-opacity="0.35" stroke-width="0.6"/>
<line x1="245.2" x2="259.5" y1="156.5" y2="156.5" stroke="#000" stroke-opacity="0.35" stroke-width="0.6"/>
<line x1="245.2" x2="259.5" y1="168" y2="168" stroke="#000" stroke-opacity="0.35" stroke-width="0.6"/>
<line x1="245.2" x2="259.5" y1="179.6" y2="179.6" stroke="#000" stroke-opacity="0.35" stroke-width="0.6"/>
<line x1="245.2" x2="259.5" y1="191.1" y2="191.1" stroke="#000" stroke-opacity="0.35" stroke-width="0.6"/>
<line x1="245.2" x2="259.5" y1="202.7" y2="202.7" stroke="#000" stroke-opacity="0.35" stroke-width="0.6"/>
<line x1="245.2" x2="259.5" y1="214.2" y2="214.2" stroke="#000" stroke-opacity="0.35" stroke-width="0.6"/>
<line x1="245.2" x2="259.5" y1="225.8" y2="225.8" stroke="#000" stroke-opacity="0.35" stroke-width="0.6"/>
<rect x="245.2" y="52.6" width="14.3" height="184.7" fill="none" stroke="#5a4a3a" stroke-opacity="0.7" stroke-width="0.8"/>
<!-- right DIC map -->
<clipPath id="cf2"><path d="M301,50.5 L476.5,50.5 L481.5,235.5 L301,235.5 Z"/></clipPath>
<clipPath id="cp2"><rect x="301" y="50.5" width="193" height="185"/></clipPath>
<g clip-path="url(#cf2)"><g filter="url(#bl2)"><path fill="#f87474" stroke="#f87474" stroke-width="0.4" fill-rule="evenodd" d="M301,49.5 314.9,49.5 314.5,54.5 313.6,58.5 312,61.3 310,63.1 306,64.6 300,64.8 300,49.5ZM355,128.2 356,128.6 356.3,130.5 356,131.8 355,132.2 354.2,130.5ZM301,231.1 307,231.5 308.2,232.5 308.5,233.5 308.7,236.5 300,236.5 300,231.1Z"/>
<path fill="#f87474" stroke="#f87474" stroke-width="0.4" fill-rule="evenodd" d="M315,49.5 328.7,49.5 327.3,59.5 325.9,65.5 324.3,69.5 322.3,72.5 320.3,74.5 315.1,77.5 309,78.9 300,79.3 300,64.8 307,64.4 311,62.3 312.6,60.5 313.9,57.5ZM355,127.1 356.2,127.5 357,130.5 356.4,132.5 355,133.4 353.8,132.5 353.5,130.5 354,128.1ZM354.8,128.5 354.2,130.5 355,132.2 356,131.8 356.3,130.5 356,128.6 355,128.2ZM301,219.5 314,219.8 318,220.5 320.2,221.5 322,223.2 323.1,225.5 324,236.5 308.7,236.5 308.5,233.5 308.2,232.5 307,231.5 300,231.1 300,219.5Z"/>
<path fill="#f89c6c" stroke="#f89c6c" stroke-width="0.4" fill-rule="evenodd" d="M329,49.5 336,49.5 333.6,67.5 332,72.7 329.4,77.5 327,80.4 324,83.1 317,87.1 308,89.8 300,90.8 300,79.3 308,79 314,77.9 319,75.5 323,71.5 324.8,68.5 326.2,64.5ZM355,126.2 356,126.3 356.9,127.5 357.5,130.5 357,132.7 356,134 355,134.4 353.4,133.5 352.8,130.5 353.6,127.5ZM354.5,127.5 353.6,129.5 353.5,131.5 354,132.8 355,133.4 356.4,132.5 356.9,129.5 356,127.3 355,127.1ZM301,210.2 321.5,211.5 326,212.7 329.4,214.5 332,217.3 333.6,221.5 334.5,236.5 324,236.5 323.7,229.5 323,225.2 321.4,222.5 319,220.9 313,219.7 300,219.5 300,210.2Z"/>
<path fill="#f8c46c" stroke="#f8c46c" stroke-width="0.4" fill-rule="evenodd" d="M336,49.9 336,49.5 340.9,49.5 338.4,69.5 336.2,76.5 333,82.2 329.3,86.5 323.4,91.5 323.3,93.5 325.6,97.5 325.6,98.5 315,101 300,101.5 300,90.8 308,89.8 317,87.1 324,83.1 327,80.4 329.4,77.5 332,72.7 333.6,67.5ZM355,125.4 356,125.5 357,126.5 357.7,128.5 357.9,131.5 356.4,134.5 355,135.3 354,135.3 353,134.6 352.5,133.5 352.2,130.5 353,127.3 354,125.9ZM354.4,126.5 353.2,128.5 352.8,131.5 353.4,133.5 355,134.4 356,134 357,132.7 357.4,129.5 357,127.7 356.2,126.5 355,126.2ZM475,147.2 478,147.5 478.4,148.5 477,149.3 475,149.3 473.6,148.5 474,147.5ZM301,205.3 315.9,205.5 329.7,208.5 334.9,211.5 337.3,214.5 339,219.4 340,236.5 334.5,236.5 333.6,221.5 332.1,217.5 330,214.9 326,212.7 321.5,211.5 310.5,210.5 300,210.2 300,205.3Z"/>
<path fill="#f0f06c" stroke="#f0f06c" stroke-width="0.4" fill-rule="evenodd" d="M341,49.5 350.5,49.5 345.4,75.5 342,84.8 336,95.5 334.4,100.5 335,104.5 328.8,107.5 321,109.5 311.2,110.5 300,110.7 300,101.5 315,101 325.6,98.5 325.6,97.5 323.3,93.5 323.4,91.5 331.2,84.5 334,80.7 336.2,76.5 338.7,67.5ZM354,125 356,124.7 357,125.6 358,127.5 358.4,130.5 358.2,132.5 357.3,134.5 356,135.8 354,136.6 352.3,135.5 351.4,131.5 352.2,127.5ZM354.7,125.5 353,127.3 352.2,130.5 352.5,133.5 353,134.6 354,135.3 356,134.9 357,133.9 357.9,130.5 357,126.5 356,125.5ZM301,141.4 344,141.9 346,142.3 347.5,143.5 349,146.6 349.4,148.5 348,152.8 347,153.7 345,154.2 300,154.4 300,141.4ZM475,142.4 479,142.8 487,146.2 495,146.7 495,149.6 487,150.3 480,154.3 476,155.2 472,154.2 465,150.3 451.7,148.5 452.1,147.5 453,147.3 465,146.2 472,143.2ZM474,147.5 473.6,148.5 475,149.3 477,149.3 478.4,148.5 478,147.5 477,147.2ZM301,202.8 321,203 332.7,206.5 337,208.9 340.1,212.5 341.9,217.5 342.7,224.5 343,236.5 340,236.5 339,219.4 337.3,214.5 334.9,211.5 329.7,208.5 315.9,205.5 300,205.3 300,202.8Z"/>
<path fill="#b4f07c" stroke="#b4f07c" stroke-width="0.4" fill-rule="evenodd" d="M351,49.5 355.4,49.5 352.1,75.5 350.2,82.5 348,88.4 341.2,99.5 339.3,103.5 338.8,108.5 332,112.2 323,114.8 314,115.9 300,116.2 300,110.7 311.2,110.5 321,109.5 328.8,107.5 335,104.5 334.4,100.5 336,95.5 342,84.8 345.4,75.5 346.8,69.5 347.9,61.5 350.5,49.5ZM354,124.1 356,123.9 357.6,125.5 358.5,127.5 358.8,131.5 358.5,133.5 357,135.9 354,138.2 351.5,138.5 351,139 350.9,144.5 351.6,153.5 351.1,156.5 350,157.8 348,158.6 344,158.9 300,158.9 300,154.4 342,154.4 345,154.2 347.4,153.5 349,150.1 349.3,147.5 347.5,143.5 346,142.3 339,141.6 300,141.4 300,135.8 336,136 350,136.8 351.3,127.5 352.4,125.5ZM353.4,125.5 351.9,128.5 351.5,132.5 352.3,135.5 354,136.6 356,135.8 357.3,134.5 358.2,132.5 358.4,130.5 358,127.5 357,125.6 355,124.6ZM472,139.3 477,138.8 487,140.9 495,141.1 495,146.7 487,146.2 479,142.8 476,142.3 473,142.8 465,146.2 453,147.3 452.1,147.5 451.7,148.5 465,150.3 472,154.2 476,155.2 480,154.3 487,150.3 495,149.6 495,155.5 487,155.9 478.2,158.5 475,158.7 465,155.9 453,155.1 443,153.6 435,151.1 430,150.1 424,149.9 411,151.6 403,151.8 393,150.8 384.4,148.5 384.6,147.5 388,146.5 398,144.6 409,144.3 423,146.1 429,146.2 434,145.5 448,142.2 455,141.3 465,140.9ZM301,200.7 325,201 335,204.7 339.7,207.5 342.8,211.5 344.5,216.5 345.2,222.5 345.6,236.5 343,236.5 342.7,224.5 341.9,217.5 340.1,212.5 337,208.9 332.7,206.5 321,203 300,202.8 300,200.7Z"/>
<path fill="#38e468" stroke="#38e468" stroke-width="0.4" fill-rule="evenodd" d="M356,49.5 359,49.5 356.8,70.5 355.6,77.5 353.8,84.5 351.5,90.5 342.8,105.5 342.2,108.5 342.7,112.5 342.4,113.5 338,116.8 334,119 323,123.2 313,124.8 300,125.1 300,116.2 314,115.9 323,114.8 332,112.2 338.8,108.5 339,104.5 340,101.9 347,90.4 350.5,81.5 352.6,72.5 355.4,49.5ZM354,123.1 356,123.1 358,125 359,127.5 359.4,131.5 358.2,135.5 353.6,140.5 352.7,142.5 352.4,145.5 352.7,150.5 354.7,158.5 354.1,161.5 353,162.7 346,163.2 300,163.2 300,158.9 344,158.9 348,158.6 350,157.8 351.1,156.5 351.6,153.5 350.9,144.5 351,139 351.5,138.5 354,138.2 357,135.9 358.5,133.5 358.9,130.5 358.5,127.5 357.6,125.5 356,123.9 355,123.8 353,124.9 351.3,127.5 350.1,136.5 349,137 345,136.4 339,136.1 300,135.8 300,129.8 320,130.1 347,131.5 349,130.7 350.4,126.5ZM474,135.4 478,135.4 487,136.7 495,136.8 495,141.1 487,140.9 478,138.9 475,138.8 465,140.9 455,141.3 448,142.2 430,146.1 424,146.2 411,144.5 402,144.3 390,146 384.6,147.5 384.4,148.5 393,150.8 403,151.8 411,151.6 424,149.9 430,150.1 435,151.1 443,153.6 453,155.1 465,155.9 475,158.7 478.2,158.5 487,155.9 495,155.5 495,159.6 487,159.9 478,161.9 475,162 466,160 450,158.9 425,154.7 400,154.6 377,153.6 374,152.6 373,151.3 371.9,148.5 372,147.5 374,144.3 377,143.1 400,141.5 425,141.6 450,137.5 466,136.6ZM301,197.5 330,198 331.3,200.5 341,205.5 344.5,209.5 346.5,214.5 347.4,221.5 347.9,236.5 345.6,236.5 345.1,221.5 344,214.5 342.2,210.5 339.7,207.5 335,204.7 325,201 300,200.7 300,197.5Z"/>
<path fill="#38e468" stroke="#38e468" stroke-width="0.4" fill-rule="evenodd" d="M359,49.5 362.6,49.5 358.7,78.5 355.5,89.5 353,95 346.6,106.5 345.5,111.5 345.9,114.5 348.9,121.5 350,123 351,123.3 354,122 356,122.1 358,123.7 359.6,127.5 360.1,131.5 359.6,134.5 354.9,140.5 353.6,144.5 353.8,150.5 356.6,159.5 356,162.5 352,167.8 348,168.3 300,168.4 300,163.2 348,163.2 353,162.7 354,161.8 354.7,158.5 352.7,150.5 352.5,143.5 353.6,140.5 358.2,135.5 359.4,131.5 358.7,126.5 357,123.7 355,122.9 353,123.7 350.4,126.5 349,130.7 347,131.5 320,130.1 300,129.8 300,125.1 313,124.8 323,123.2 334,119 338,116.8 342.4,113.5 342.7,112.5 342.2,108.5 342.8,105.5 351,91.7 354.7,81.5 356.7,71.5ZM468,132.5 476,132 495,132.7 495,136.8 487,136.7 475,135.3 466,136.6 450,137.5 425,141.6 401,141.4 378,142.9 375.2,143.5 374,144.3 372,147.5 371.9,148.5 373,151.3 373.9,152.5 376,153.5 400,154.6 425,154.7 450,158.9 466,160 475,162 478,161.9 487,159.9 495,159.6 495,163.3 487,163.5 475,164.7 466,163.5 447,162.5 420,158.2 374,157.7 371,156.7 370,155.1 369.8,148.5 370.7,142.5 372,139.9 374,139 396,138 420,137.7 448,133.5ZM301,193.9 322,194 334,194.6 336,198.3 345,205.2 348,210.1 349.1,213.5 350,218.5 351,236.5 347.9,236.5 347.5,222.5 346.7,215.5 345,210.4 342,206.3 339,204.2 331.3,200.5 330,198 300,197.5 300,193.9Z"/>
<path fill="#38e468" stroke="#38e468" stroke-width="0.4" fill-rule="evenodd" d="M363,49.5 366.8,49.5 364.6,61.5 363.7,70.5 362.5,77.5 359,89.5 351.2,105.5 348.9,111.5 349.9,116.5 351,119.3 352,120.1 355,120.5 357,121.4 359.4,124.5 360.4,127.5 361.3,133.5 360.4,135.5 355.9,140.5 354.7,143.5 354.4,146.5 354.8,150.5 356.2,154.5 358,157.5 361.4,161.5 360.8,162.5 355.6,166.5 340.7,190.5 339.1,195.5 348,202.5 350.8,206.5 352.3,210.5 353.9,219.5 354.7,236.5 351,236.5 350,218.5 349.1,213.5 348,210.1 345,205.2 336,198.3 334,194.6 322,194 300,193.9 300,168.4 348,168.3 352,167.8 356,162.5 356.6,159.5 353.8,150.5 353.6,144.5 354.9,140.5 359.6,134.5 360.1,131.5 359.6,127.5 358,123.7 356,122.1 354,122 351,123.3 350,123 348.9,121.5 345.9,114.5 345.5,110.5 346.6,106.5 354,93 357.3,84.5 359.5,74.5 360.9,61.5 362.6,49.5ZM454,129.4 476,128.6 495,129.2 495,132.7 476,132 455,132.9 446,133.7 421,137.6 374,139 372,139.9 370.7,142.5 369.8,148.5 370,155.1 371,156.7 374,157.7 420,158.2 447,162.5 466,163.5 475,164.7 487,163.5 495,163.3 495,167.1 487,167.6 476,169.3 465,167.2 456,166.8 419,162.4 400,161.3 370,162 366.1,161.5 364.9,160.5 368.2,151.5 368.8,144.5 368.1,137.5 368.2,136.5 370,135.2 375,134.7 420,132.9Z"/>
<path fill="#30f090" stroke="#30f090" stroke-width="0.4" fill-rule="evenodd" d="M367,49.5 375.3,49.5 370.6,61.5 369,70.5 367.3,76.5 361.8,90.5 354.2,106.5 353.6,109.5 354.4,116.5 359.6,122.5 362,128.5 363,129.9 366,131 369,131.4 379,131.4 420.6,128.5 437,122.8 448,120.1 457,119 475,118.8 495,118.9 495,129.2 476,128.6 456,129.3 420,132.9 375,134.7 370,135.2 368.2,136.5 368.8,144.5 368.4,150.5 365,160.7 366.1,161.5 370,162 400,161.3 419,162.4 456,166.8 465,167.2 476,169.3 487,167.6 495,167.1 495,175.2 479,176.2 453,174.5 442,172.3 424.2,166.5 399,164.3 386,164.4 375,165 363.9,166.5 358,170.5 352,177.5 348.7,183.5 345.3,191.5 346,193.6 351,199.3 353.6,203.5 355.6,208.5 357.8,216.5 360.5,236.5 354.7,236.5 353.7,217.5 351.7,208.5 350.3,205.5 348,202.5 339.1,195.5 340.7,190.5 355.6,166.5 360.8,162.5 361.4,161.5 358,157.5 356.2,154.5 354.8,150.5 354.4,146.5 354.7,143.5 355.9,140.5 360.4,135.5 361.3,133.5 360.4,127.5 359.4,124.5 357,121.4 355,120.5 352,120.1 351,119.3 349.9,116.5 348.9,111.5 351.2,105.5 358.2,91.5 361,83.6 363.1,74.5 364.6,61.5ZM360.4,137.5 357.8,139.5 356,142.1 355.2,145.5 355.3,148.5 356,152 358,155.3 360,156.7 362,157 364.7,155.5 366.6,152.5 367.4,149.5 367.6,144.5 366.5,140.5 365,138.1 363,136.8ZM469,49.5 495,49.5 495,51.3 486,53 477,53.3 473,52.2 468.7,49.5ZM484,218 485,217.5 486,218.4 487,220.6 488,225.3 489.1,236.5 480.6,236.5 482.2,223.5 483,219.9Z"/>
<path fill="#38f4d0" stroke="#38f4d0" stroke-width="0.4" fill-rule="evenodd" d="M375,50.3 375.3,49.5 468.7,49.5 474,52.6 480,53.4 488,52.8 495,51.3 495,66.8 481,67.9 473,67.6 468,66.9 466,66.2 464,64.8 462.2,61.5 458,56.9 455,55.6 450,54.7 412,57.1 391,57.7 384,62.5 380,68.5 376,73.3 371.5,81.5 367,88.1 361.4,98.5 359.7,102.5 357.5,109.5 357.3,112.5 357.6,115.5 358.9,118.5 362,123.1 364,125.4 366,126.8 370.8,128.5 377,128.8 383,128.4 392.7,126.5 406,119.4 426,110.2 437,106.7 452,104.9 495,104.6 495,118.9 459,119 452,119.5 440,121.9 422,128.1 419,128.6 379,131.4 369,131.4 366,131 363,129.9 362,128.5 359.6,122.5 354.4,116.5 353.7,112.5 353.7,108.5 354.6,105.5 362.2,89.5 367.3,76.5 369,70.5 370.6,61.5ZM361,137.1 363,136.8 365,138.1 366.9,141.5 367.6,145.5 367.4,149.5 366.6,152.5 364.7,155.5 362,157 359,156.2 357,154 355.6,150.5 355.1,146.5 355.5,143.5 356.3,141.5 358,139.3ZM359.3,139.5 357.2,141.5 356.2,143.5 355.8,146.5 356,149.5 356.6,151.5 358,153.7 360,155.1 362,155.2 364,154.1 365.8,151.5 366.4,149.5 366.5,144.5 365.5,141.5 364,139.7 362,138.7ZM384,164.5 399,164.3 423,166.3 442.8,172.5 454,174.6 467,175.1 479,176.2 495,175.2 495,191 493.3,192.5 492.8,194.5 494.2,209.5 495,213 495,236.5 489.1,236.5 487.5,222.5 486.1,218.5 485,217.5 484,218 482.8,220.5 480.6,236.5 475.3,236.5 476.3,230.5 476.7,224.5 475.7,195.5 475.1,192.5 473,190.7 468,188.6 457,187.3 451,186 443,183 431.8,177.5 398,167.5 395,167.4 383,167.8 370,170.8 362,175.4 359.7,177.5 357.2,181.5 355.8,184.5 355.5,192.5 357.1,197.5 360.3,204.5 363,211.9 373,229.9 381.8,236.5 360.5,236.5 358.2,218.5 355.3,207.5 352,200.7 345.9,193.5 345.3,191.5 345.6,190.5 348.7,183.5 352,177.5 356,172.5 361,168.1 363.9,166.5 367,165.8Z"/>
<path fill="#58e4f8" stroke="#58e4f8" stroke-width="0.4" fill-rule="evenodd" d="M440,55.4 450,54.7 457,56.3 459.9,58.5 464.8,65.5 469,67.1 481,67.9 495,66.8 495,104.6 456,104.7 446,105.4 437,106.7 430,108.8 422,111.8 404,120.4 393,126.4 383,128.4 377,128.8 370.8,128.5 366,126.8 363,124.4 358.3,117.5 357.4,114.5 357.5,109.5 359.7,102.5 361.4,98.5 367,88.1 371.5,81.5 376,73.3 385.1,61.5 391,57.7 410,57.2ZM439.9,60.5 428,62.3 391,74 374,85.3 369,90.8 364.1,99.5 362.5,103.5 361,109.5 360.7,113.5 360.9,115.5 362.5,118.5 364.3,120.5 367,122.4 374,124.8 380,125 387,123.9 391,122.9 411.8,108.5 423.3,99.5 442,80.7 449.4,68.5 450.9,64.5 450.8,62.5 450.1,61.5 448.2,60.5 446,60.1ZM360,139.1 362,138.7 364,139.7 365.9,142.5 366.7,145.5 365.8,151.5 364,154.1 362,155.2 360,155.1 358,153.7 356.6,151.5 356,149.5 355.8,146.5 356.2,143.5 358,140.6ZM359.8,140.5 358,141.9 357,143.5 356.5,147.5 357,150.5 358,152.3 359,153.2 361,153.9 363,153.3 364.7,151.5 365.5,149.5 365.7,145.5 365.2,143.5 364,141.5 362,140.2ZM388,167.5 398,167.5 431.8,177.5 443,183 450,185.7 456,187.1 468,188.6 471,189.6 474,191.4 475.1,192.5 475.7,194.5 476.7,220.5 476.5,228.5 475.3,236.5 468.3,236.5 470,234.1 471.3,230.5 471.7,226.5 471.4,221.5 470.4,217.5 468.8,213.5 467,210.4 464,207.6 442.4,193.5 429,185.9 415,178.8 396,171 385,171.2 379,172.2 369,175.8 366.5,177.5 364.8,179.5 361.5,186.5 361.3,192.5 365.6,204.5 369.5,211.5 373,216.6 374.9,218.5 386,223.1 410,229.9 440.3,236.5 381.8,236.5 373,229.9 363,211.9 360.3,204.5 357.1,197.5 355.5,192.5 355.8,184.5 359.7,177.5 363,174.5 368,171.7 374,169.6 383,167.8ZM495,191 495,213 494.2,209.5 492.8,194.5 493.3,192.5Z"/>
<path fill="#60bcf8" stroke="#60bcf8" stroke-width="0.4" fill-rule="evenodd" d="M440,60.5 446,60.1 448.2,60.5 450.1,61.5 450.8,62.5 450.9,64.5 449.4,68.5 442,80.7 423.3,99.5 411.8,108.5 391,122.9 387,123.9 380,125 374,124.8 367,122.4 364.3,120.5 362.5,118.5 360.9,115.5 360.7,113.5 361,109.5 362.5,103.5 364.1,99.5 369,90.8 374,85.3 391,74 428,62.3ZM431.4,66.5 415,72 390,81.3 381.3,86.5 373,90.6 370.8,92.5 368.5,96.5 366.3,100.5 364.5,105.5 363.8,111.5 364.4,113.5 366.1,116.5 368.1,118.5 371,120.4 377,122.1 386,121.2 389,120.5 390.5,119.5 414.5,99.5 433.3,81.5 438.6,75.5 441.1,70.5 441.5,68.5 441,67.1 440,66.3 438,65.9ZM360,140.4 362,140.2 364,141.5 365.2,143.5 365.7,145.5 365.5,149.5 364.7,151.5 363,153.3 361,153.9 359,153.2 358,152.3 357,150.5 356.5,147.5 357,143.5 358,141.9ZM360.6,141.5 359,142.2 358,143.4 357.1,146.5 358,150.8 359,152 361,152.7 363,151.9 364,150.7 364.9,146.5 364.6,144.5 363.3,142.5 362,141.6ZM383,171.4 396,171 414.2,178.5 429,185.9 440.7,192.5 463,206.8 466.2,209.5 468,212 470,216.2 471.2,220.5 471.7,225.5 471.4,229.5 470.7,232.5 469,235.7 468.3,236.5 440.3,236.5 410,229.9 386,223.1 374.9,218.5 373,216.6 369.5,211.5 365.6,204.5 361.5,193.5 361.2,187.5 363.6,181.5 365.5,178.5 367,177.1 372,174.5ZM381.2,174.5 376,176.3 370,179.9 366.6,184.5 365.3,189.5 366.6,197.5 368.4,202.5 373,210 377,214.3 386,217.2 392,218.1 413,224 440,229.7 448,230.6 454,230.6 458.8,229.5 461.5,227.5 462.6,224.5 462.2,221.5 460.2,217.5 456.9,213.5 450.1,207.5 430,193.5 408,181.6 402.3,177.5 395,173.9 388,173.9Z"/>
<path fill="#7c98f8" stroke="#7c98f8" stroke-width="0.4" fill-rule="evenodd" d="M432,66.3 438,65.9 440.4,66.5 441.3,67.5 441.1,70.5 438,76.3 431.3,83.5 414.5,99.5 390.5,119.5 389,120.5 386,121.2 377,122.1 371,120.4 368.1,118.5 366.1,116.5 364.4,113.5 363.8,111.5 364.5,105.5 366.3,100.5 368.5,96.5 370.8,92.5 373,90.6 381.3,86.5 390,81.3 415,72ZM421.5,75.5 409.3,79.5 395,85.4 390,86.6 384,89.5 377,92 372.1,94.5 368.8,100.5 366.7,106.5 366.7,110.5 368.5,114.5 371.9,117.5 376,119.1 381,119.3 388,118.1 392.1,114.5 405,100.9 422.8,84.5 426.3,80.5 427.9,77.5 428,76.5 427.5,75.5 425,75ZM361,141.4 363,142.2 364,143.3 364.9,146.5 364,150.7 363,151.9 361,152.7 359,152 358,150.8 357.1,146.5 358,143.4 359,142.2ZM359.1,143.5 358,145.5 358.4,149.5 360,151.3 362,151.2 363.5,149.5 363.9,145.5 363,143.8 362,143 361,142.7ZM382,174.4 395,173.9 402.3,177.5 408,181.6 430,193.5 450.1,207.5 456.9,213.5 460.2,217.5 462.2,221.5 462.6,224.5 461.5,227.5 458.8,229.5 454,230.6 448,230.6 440,229.7 413,224 392,218.1 386,217.2 377,214.3 373,210 368.4,202.5 366.6,197.5 365.3,189.5 366.6,184.5 370,179.9 376,176.3ZM385.2,176.5 380,177.3 375,179.8 371,184.5 369,189.5 368.6,193.5 370,199.5 373.6,205.5 378,211 386,213.2 394,213.8 411,218.1 437,223 443.6,222.5 446,221.5 447.1,220.5 447.7,218.5 447.3,216.5 445.7,213.5 443.3,210.5 421.5,194.5 406.2,185.5 400,180 394,176.3Z"/>
<path fill="#a07cf4" stroke="#a07cf4" stroke-width="0.4" fill-rule="evenodd" d="M422,75.4 425,75 427.5,75.5 428,76.5 427.9,77.5 426.3,80.5 422.8,84.5 405,100.9 392.1,114.5 388,118.1 381,119.3 376,119.1 371.9,117.5 368.5,114.5 366.7,110.5 366.7,106.5 368.8,100.5 372.1,94.5 377,92 384,89.5 390,86.6 395,85.4 412,78.5ZM390.7,91.5 379,94.3 374,96.3 373,97.4 370.5,102.5 369.5,107.5 370.3,111.5 372.8,114.5 375,115.8 379,116.8 386,116.5 391.2,111.5 394.3,106.5 398.9,100.5 400,97.5 400.1,95.5 399.3,93.5 397,91.9 394,91.3ZM360,142.9 361,142.7 362.7,143.5 363.5,144.5 364,146.5 363,150.3 361,151.5 359,150.5 357.9,147.5 358.4,144.5ZM359.9,144.5 359,145.8 358.9,147.5 359.8,149.5 361,149.9 362,149.5 362.9,146.5 362,144.6 361,144.2ZM386,176.4 393,176.1 396.3,177.5 401.9,181.5 406.2,185.5 420.1,193.5 431.2,201.5 442.1,209.5 444.1,211.5 447.3,216.5 447.7,218.5 447.1,220.5 446,221.5 443.6,222.5 437,223 411,218.1 394,213.8 386,213.2 378,211 373.6,205.5 370,199.5 368.6,193.5 369,189.5 371,184.5 375,179.8 380,177.3ZM388.1,178.5 382,179.5 378,180.8 374,184.4 371.9,188.5 371.1,192.5 371.7,196.5 374.2,201.5 379,208.4 386,210 396,209.8 406,211.9 414,212.8 424,212.9 426.2,212.5 427.6,211.5 428,210.5 427.1,208.5 419.4,200.5 411,193.5 405,189.7 398,182.3 393,178.4Z"/>
<path fill="#c880f4" stroke="#c880f4" stroke-width="0.4" fill-rule="evenodd" d="M391,91.5 395,91.4 398,92.3 399.9,94.5 400.1,96.5 398.9,100.5 394.3,106.5 391.2,111.5 386,116.5 379,116.8 375,115.8 372.8,114.5 370.3,111.5 369.5,107.5 370.5,102.5 373,97.4 374,96.3 379,94.3ZM378.2,97.5 375,98.6 373.9,100.5 372.6,105.5 373.1,109.5 374.3,111.5 377.3,113.5 381.1,114.5 385,114.4 388.5,110.5 390.2,107.5 391.2,103.5 391,99.5 388.4,97.5 386,96.8 382,96.7ZM360,144.4 361,144.2 362,144.6 362.9,146.5 362,149.5 361,149.9 359.8,149.5 358.9,147.5 359.1,145.5ZM389,178.4 393.1,178.5 399.4,183.5 405,189.7 411,193.5 416.1,197.5 426.3,207.5 427.7,209.5 428,210.5 427.6,211.5 426.2,212.5 424,212.9 414,212.8 406,211.9 396,209.8 386,210 379,208.4 374.2,201.5 371.7,196.5 371.1,192.5 371.9,188.5 374,184.4 378,180.8 383,179.2ZM384.2,181.5 380,182.9 377.3,184.5 375,187.4 373.9,190.5 373.8,193.5 375,197.5 380,205.9 385,206.9 390,206.9 394,206.2 398,204.6 403,204.6 406.4,203.5 407.4,201.5 406.8,199.5 402.8,194.5 399.8,188.5 396.3,184.5 392,180.7 390,180.6Z"/>
<path fill="#f870ec" stroke="#f870ec" stroke-width="0.4" fill-rule="evenodd" d="M379,97.3 382,96.7 386,96.8 388.4,97.5 391,99.5 391.2,103.5 390.2,107.5 388.5,110.5 385,114.4 381.1,114.5 377.3,113.5 374.3,111.5 373.1,109.5 372.6,105.5 374.4,99.5 375.1,98.5ZM385,181.3 392,180.7 397.3,185.5 400.4,189.5 402.8,194.5 406.8,199.5 407.4,201.5 406.4,203.5 403,204.6 398,204.6 394,206.2 390,206.9 385,206.9 380,205.9 375,197.5 373.8,193.5 373.9,190.5 375,187.4 377.3,184.5 380.9,182.5Z"/></g></g>
<g clip-path="url(#cp2)">
<g filter="url(#bl)">
<g fill="#b22727"><circle cx="303" cy="52.3" r="1.9"/><circle cx="308.3" cy="52.9" r="2.1"/><circle cx="314.1" cy="53.2" r="1.9"/><circle cx="319.9" cy="53.8" r="2"/><circle cx="326.3" cy="53.4" r="2.2"/><circle cx="302.8" cy="59.4" r="2.1"/><circle cx="308.4" cy="59.9" r="1.9"/><circle cx="314.9" cy="60" r="2.2"/><circle cx="321.1" cy="59.3" r="2"/><circle cx="326.2" cy="59.3" r="2.1"/><circle cx="303.5" cy="65.5" r="2.2"/><circle cx="309.2" cy="66.3" r="2"/><circle cx="314.5" cy="66.2" r="1.9"/><circle cx="320.8" cy="66.1" r="1.9"/><circle cx="303.4" cy="72.1" r="2.2"/><circle cx="309.1" cy="72.6" r="2.1"/><circle cx="314.6" cy="72.4" r="2.1"/><circle cx="320.4" cy="72.1" r="2.1"/><circle cx="302.8" cy="77.9" r="1.9"/><circle cx="353.9" cy="130.3" r="2.1"/><circle cx="302.3" cy="220.5" r="2"/><circle cx="307.8" cy="220.7" r="2.2"/><circle cx="313.2" cy="221.4" r="2.1"/><circle cx="318.9" cy="221.2" r="2"/><circle cx="302.2" cy="226.9" r="2.2"/><circle cx="308.4" cy="227" r="2"/><circle cx="313.5" cy="227.7" r="2.1"/><circle cx="320" cy="227.6" r="2.1"/><circle cx="302.1" cy="233.3" r="2"/><circle cx="308.2" cy="234.2" r="1.9"/><circle cx="313.8" cy="233.4" r="2.1"/><circle cx="320.7" cy="234.2" r="2.2"/></g>
<g fill="#b24722"><circle cx="331.5" cy="52.1" r="1.9"/><circle cx="332.7" cy="59" r="2.1"/><circle cx="326.4" cy="65.7" r="2"/><circle cx="331.9" cy="64.9" r="2.2"/><circle cx="325.2" cy="72.2" r="2"/><circle cx="331.3" cy="72.2" r="2.2"/><circle cx="307.3" cy="79.3" r="2.1"/><circle cx="313.1" cy="79.4" r="2.1"/><circle cx="319" cy="79.4" r="2.2"/><circle cx="324.3" cy="78.2" r="2"/><circle cx="301.8" cy="85" r="2.2"/><circle cx="307.4" cy="85.6" r="2.2"/><circle cx="313.8" cy="85.6" r="2.2"/><circle cx="318.7" cy="85.9" r="2.1"/><circle cx="301.9" cy="214.1" r="2"/><circle cx="308.2" cy="214.3" r="2.1"/><circle cx="313.5" cy="214.3" r="2"/><circle cx="318.7" cy="214" r="2"/><circle cx="325.1" cy="213.8" r="2.2"/><circle cx="325.4" cy="220.8" r="2.1"/><circle cx="330.4" cy="220.1" r="2.1"/><circle cx="325.6" cy="226.6" r="2.1"/><circle cx="330.8" cy="227.1" r="2.1"/><circle cx="326.2" cy="233" r="2"/><circle cx="332.1" cy="233.6" r="2.1"/></g>
<g fill="#b26f22"><circle cx="337.1" cy="51.7" r="2.2"/><circle cx="337.4" cy="58.5" r="1.9"/><circle cx="336.9" cy="65.3" r="2.2"/><circle cx="336.4" cy="71.9" r="2.2"/><circle cx="330.9" cy="78" r="2.1"/><circle cx="324.9" cy="84.9" r="2"/><circle cx="330" cy="84.2" r="1.9"/><circle cx="313.4" cy="92" r="1.9"/><circle cx="319.9" cy="92.3" r="2"/><circle cx="308.7" cy="208.1" r="2.1"/><circle cx="314" cy="208.3" r="2.2"/><circle cx="319.9" cy="208.7" r="2.1"/><circle cx="325.5" cy="208" r="2"/><circle cx="330.7" cy="213.2" r="2.1"/><circle cx="336.3" cy="219.8" r="1.9"/><circle cx="337.5" cy="226.4" r="2.1"/><circle cx="338.3" cy="233" r="2.2"/></g>
<g fill="#a7a722"><circle cx="343.3" cy="52.3" r="2.1"/><circle cx="349.3" cy="52.8" r="1.9"/><circle cx="343.3" cy="58.9" r="2"/><circle cx="343.6" cy="64.9" r="2"/><circle cx="342.8" cy="71.7" r="2"/><circle cx="336.9" cy="77.6" r="2"/><circle cx="342" cy="78.1" r="2.2"/><circle cx="336" cy="84.3" r="2.1"/><circle cx="341.7" cy="84.1" r="2.1"/><circle cx="325.4" cy="91.4" r="2.1"/><circle cx="331.5" cy="91" r="2.2"/><circle cx="336.9" cy="91.2" r="1.9"/><circle cx="331.7" cy="97.2" r="2.2"/><circle cx="475.1" cy="143.4" r="2.2"/><circle cx="456.8" cy="149.3" r="2.2"/><circle cx="468.4" cy="150" r="2.2"/><circle cx="474" cy="149.6" r="2.2"/><circle cx="330.7" cy="207.8" r="2.2"/><circle cx="336.7" cy="213.4" r="2.2"/><circle cx="341.7" cy="220.2" r="2.1"/><circle cx="342.4" cy="226.7" r="2.2"/></g>
<g fill="#5ea72d"><circle cx="355" cy="52.3" r="2.1"/><circle cx="349" cy="59.1" r="2.1"/><circle cx="349.1" cy="65.5" r="2"/><circle cx="347.9" cy="71.6" r="1.9"/><circle cx="348" cy="78.2" r="2.2"/><circle cx="347.8" cy="84.9" r="1.9"/><circle cx="342.4" cy="90.7" r="2"/><circle cx="337.6" cy="97.3" r="2.2"/><circle cx="338.4" cy="103.7" r="2.2"/><circle cx="355.1" cy="137.1" r="2"/><circle cx="451.8" cy="142.6" r="1.9"/><circle cx="457" cy="142.7" r="2.1"/><circle cx="463.2" cy="144" r="2.2"/><circle cx="468.9" cy="143.4" r="2"/><circle cx="388.9" cy="148.9" r="2.2"/><circle cx="394.2" cy="148.5" r="2.1"/><circle cx="400.1" cy="149" r="2.1"/><circle cx="406.2" cy="149.8" r="2.1"/><circle cx="412.2" cy="149.8" r="2.2"/><circle cx="417.3" cy="149.8" r="2.2"/><circle cx="428.5" cy="149.9" r="2.1"/><circle cx="434.4" cy="149" r="2"/><circle cx="439.4" cy="148.5" r="2"/><circle cx="446.2" cy="148.8" r="2.2"/><circle cx="451.5" cy="149.6" r="2"/><circle cx="462.4" cy="149.9" r="2.2"/><circle cx="468.5" cy="156.7" r="2"/><circle cx="474.1" cy="156.9" r="2.2"/><circle cx="336.8" cy="207" r="2"/><circle cx="341.8" cy="212.9" r="2.1"/><circle cx="343.3" cy="232.7" r="2"/></g>
<g fill="#09971f"><circle cx="360.6" cy="53.2" r="2.1"/><circle cx="355.3" cy="59" r="2.2"/><circle cx="360.6" cy="59.7" r="2.1"/><circle cx="354.2" cy="65.3" r="2.2"/><circle cx="360.7" cy="65.6" r="2.2"/><circle cx="353.8" cy="72.2" r="2"/><circle cx="359" cy="73" r="2.1"/><circle cx="353.7" cy="78.1" r="1.9"/><circle cx="359.4" cy="78.6" r="1.9"/><circle cx="353.7" cy="84.9" r="2.1"/><circle cx="360.2" cy="85.4" r="2"/><circle cx="348.7" cy="91.4" r="2.1"/><circle cx="354.1" cy="91.5" r="2"/><circle cx="343.3" cy="96.8" r="2"/><circle cx="349" cy="98" r="2.2"/><circle cx="355" cy="97.4" r="2.2"/><circle cx="343.6" cy="104.1" r="1.9"/><circle cx="349.7" cy="104.2" r="2"/><circle cx="343" cy="109.8" r="2.1"/><circle cx="348.3" cy="110.1" r="2.1"/><circle cx="348.2" cy="116.2" r="2.2"/><circle cx="354.1" cy="123.3" r="2.1"/><circle cx="359.9" cy="131" r="2"/><circle cx="458.4" cy="130.6" r="2.2"/><circle cx="464.3" cy="130.1" r="2.1"/><circle cx="470.6" cy="130.6" r="2.2"/><circle cx="476.1" cy="130.4" r="2.1"/><circle cx="372.4" cy="137.4" r="2"/><circle cx="377.7" cy="136.3" r="2.2"/><circle cx="383.2" cy="136.1" r="1.9"/><circle cx="389.5" cy="135.8" r="2"/><circle cx="395" cy="136.1" r="1.9"/><circle cx="400.9" cy="135.8" r="1.9"/><circle cx="406.9" cy="136.1" r="2.2"/><circle cx="412.1" cy="136.9" r="1.9"/><circle cx="418.2" cy="137.7" r="2.2"/><circle cx="424.2" cy="136.8" r="2.2"/><circle cx="430.4" cy="136.2" r="2.1"/><circle cx="435.5" cy="136" r="1.9"/><circle cx="441.3" cy="135.8" r="2"/><circle cx="446.6" cy="136.2" r="2.2"/><circle cx="452.8" cy="136.7" r="2.2"/><circle cx="457.7" cy="137" r="2"/><circle cx="464.3" cy="137.2" r="2.2"/><circle cx="469.6" cy="137" r="2.1"/><circle cx="475" cy="136.8" r="2"/><circle cx="372.9" cy="143.6" r="2"/><circle cx="378.1" cy="143.4" r="2"/><circle cx="383.9" cy="142.8" r="2"/><circle cx="389.1" cy="142.8" r="2.1"/><circle cx="395.1" cy="141.9" r="2.1"/><circle cx="400.7" cy="143.1" r="2.2"/><circle cx="407" cy="142.7" r="2.1"/><circle cx="411.9" cy="143.9" r="1.9"/><circle cx="417.5" cy="144" r="2.1"/><circle cx="423.7" cy="143.3" r="2"/><circle cx="429" cy="143" r="2.2"/><circle cx="434.9" cy="143.1" r="2.2"/><circle cx="440.3" cy="142" r="2"/><circle cx="446" cy="142.1" r="1.9"/><circle cx="372" cy="150.4" r="2.1"/><circle cx="378.1" cy="149.7" r="1.9"/><circle cx="383.9" cy="148.9" r="2.2"/><circle cx="422.8" cy="150.4" r="2"/><circle cx="371.5" cy="157" r="2.2"/><circle cx="377.6" cy="156.4" r="2"/><circle cx="382.3" cy="155.8" r="2.2"/><circle cx="388.5" cy="155.4" r="1.9"/><circle cx="393.9" cy="155.3" r="2"/><circle cx="400.2" cy="155" r="2.1"/><circle cx="404.9" cy="156" r="1.9"/><circle cx="411.5" cy="156.8" r="2.2"/><circle cx="416.5" cy="156.4" r="2.1"/><circle cx="422.1" cy="156" r="1.9"/><circle cx="428.5" cy="156.6" r="2.2"/><circle cx="434.3" cy="155.1" r="2.1"/><circle cx="440.3" cy="155.6" r="2.2"/><circle cx="445.8" cy="155.7" r="2"/><circle cx="451.3" cy="156" r="2"/><circle cx="457" cy="156.5" r="2.2"/><circle cx="462.5" cy="156.8" r="2"/><circle cx="359.1" cy="163.4" r="2.2"/><circle cx="382.2" cy="161.6" r="2.2"/><circle cx="423.1" cy="162.6" r="2.1"/><circle cx="428.2" cy="162.8" r="1.9"/><circle cx="434.3" cy="162.7" r="2.2"/><circle cx="440.8" cy="161.3" r="2"/><circle cx="446.1" cy="161.5" r="2.1"/><circle cx="451.5" cy="161.7" r="2.2"/><circle cx="458.2" cy="162.1" r="2"/><circle cx="463.5" cy="162.6" r="1.9"/><circle cx="469.7" cy="162.7" r="2.2"/><circle cx="475.4" cy="162.7" r="2.1"/><circle cx="353.9" cy="168.6" r="2.1"/><circle cx="476" cy="168.9" r="2.2"/><circle cx="337.6" cy="194.6" r="2.2"/><circle cx="331.8" cy="200.8" r="2.1"/><circle cx="338" cy="200.6" r="1.9"/><circle cx="343.5" cy="200.4" r="2.2"/><circle cx="342.7" cy="206.5" r="2"/><circle cx="348.5" cy="207.3" r="2.1"/><circle cx="347.3" cy="213" r="1.9"/><circle cx="347.7" cy="220.1" r="1.9"/><circle cx="348.3" cy="226.9" r="2.1"/><circle cx="349.6" cy="232.8" r="2.2"/></g>
<g fill="#07a73c"><circle cx="366.5" cy="53.5" r="2.1"/><circle cx="372.3" cy="53.2" r="2"/><circle cx="366" cy="59.4" r="2.2"/><circle cx="365.8" cy="66.1" r="2.2"/><circle cx="364.9" cy="73.1" r="2.1"/><circle cx="364.8" cy="79" r="2.2"/><circle cx="360.6" cy="91.5" r="1.9"/><circle cx="354.3" cy="116.7" r="2.1"/><circle cx="359.2" cy="124" r="2.1"/><circle cx="441" cy="122.7" r="2.1"/><circle cx="446.6" cy="123.4" r="2"/><circle cx="452.9" cy="123.5" r="2.2"/><circle cx="458.1" cy="123.4" r="2"/><circle cx="463.7" cy="124.3" r="2.2"/><circle cx="470.4" cy="124.6" r="2.1"/><circle cx="475.8" cy="124.1" r="2"/><circle cx="407.1" cy="130.3" r="2.2"/><circle cx="412.3" cy="130.8" r="2.1"/><circle cx="417.6" cy="131.2" r="2"/><circle cx="424.3" cy="130.7" r="2.1"/><circle cx="430.2" cy="130.4" r="2.1"/><circle cx="435.7" cy="130.4" r="2.2"/><circle cx="441.4" cy="130" r="2"/><circle cx="447.1" cy="128.9" r="2.2"/><circle cx="452.8" cy="129.1" r="2.1"/><circle cx="366.1" cy="137.3" r="2.1"/><circle cx="366" cy="156.6" r="2.2"/><circle cx="365.5" cy="163.3" r="2"/><circle cx="371.4" cy="163.3" r="2.1"/><circle cx="376.5" cy="162.1" r="2.1"/><circle cx="387.5" cy="161.6" r="2.2"/><circle cx="393.7" cy="162.2" r="2.1"/><circle cx="399.1" cy="161.6" r="1.9"/><circle cx="405.6" cy="162.5" r="2.1"/><circle cx="411.3" cy="162.9" r="2.2"/><circle cx="417.1" cy="163.3" r="2.2"/><circle cx="435.7" cy="168.2" r="2.1"/><circle cx="440.6" cy="168.7" r="2.2"/><circle cx="446.9" cy="168.2" r="2.2"/><circle cx="452.1" cy="167.8" r="2.2"/><circle cx="458.7" cy="168.5" r="2.1"/><circle cx="463.8" cy="168.9" r="2.2"/><circle cx="469.6" cy="169.1" r="2"/><circle cx="353.8" cy="175" r="2"/><circle cx="475.6" cy="175.5" r="1.9"/><circle cx="349.1" cy="180.8" r="2.1"/><circle cx="343.4" cy="193.7" r="2.2"/><circle cx="348.5" cy="200.8" r="2.1"/><circle cx="353.9" cy="207.4" r="2.1"/><circle cx="354" cy="214.5" r="2.2"/><circle cx="354.5" cy="220.6" r="2.1"/><circle cx="354.4" cy="226.9" r="2.2"/><circle cx="355.4" cy="233.6" r="2.2"/></g>
<g fill="#09ad7e"><circle cx="378" cy="52.4" r="1.9"/><circle cx="383.4" cy="52.7" r="1.9"/><circle cx="389.6" cy="51.6" r="1.9"/><circle cx="395.5" cy="51.9" r="2.2"/><circle cx="400.8" cy="51.9" r="2.1"/><circle cx="406.5" cy="53" r="2.2"/><circle cx="412.3" cy="52.9" r="1.9"/><circle cx="417.9" cy="52.9" r="2.2"/><circle cx="423.6" cy="53.3" r="2.1"/><circle cx="429.2" cy="53" r="2.2"/><circle cx="434.9" cy="52.9" r="2"/><circle cx="440.1" cy="51.5" r="2.2"/><circle cx="446.4" cy="51.7" r="2.1"/><circle cx="452.4" cy="52.7" r="1.9"/><circle cx="457.3" cy="52.5" r="2.1"/><circle cx="463.5" cy="53" r="2.1"/><circle cx="468.9" cy="53.9" r="2"/><circle cx="474" cy="52.8" r="2"/><circle cx="372.1" cy="59.9" r="2.2"/><circle cx="377.2" cy="59.1" r="2.1"/><circle cx="383.4" cy="59.2" r="2.2"/><circle cx="389.4" cy="58.1" r="2.2"/><circle cx="462.7" cy="59.6" r="2"/><circle cx="468.8" cy="59.7" r="2"/><circle cx="474.4" cy="59.5" r="2.2"/><circle cx="371.9" cy="65.9" r="1.9"/><circle cx="376.5" cy="66.2" r="2"/><circle cx="469.1" cy="66.2" r="1.9"/><circle cx="475.2" cy="66.6" r="1.9"/><circle cx="370.9" cy="72.2" r="2"/><circle cx="376.4" cy="72.5" r="2"/><circle cx="370.4" cy="79.7" r="2.1"/><circle cx="365.5" cy="85.8" r="2.2"/><circle cx="361" cy="98.5" r="2"/><circle cx="355.6" cy="104.9" r="2"/><circle cx="462.4" cy="105" r="2.1"/><circle cx="468.3" cy="105.3" r="2.2"/><circle cx="474.5" cy="105.2" r="2"/><circle cx="354.9" cy="111.3" r="2.1"/><circle cx="428.7" cy="110.7" r="2.2"/><circle cx="434.3" cy="110.4" r="2"/><circle cx="440.2" cy="110.3" r="1.9"/><circle cx="445.9" cy="110.4" r="2"/><circle cx="451.8" cy="110" r="2.2"/><circle cx="457.6" cy="111.3" r="2.1"/><circle cx="463.2" cy="111.3" r="1.9"/><circle cx="469" cy="112" r="2.2"/><circle cx="474.6" cy="110.8" r="2"/><circle cx="411.1" cy="117.6" r="2.1"/><circle cx="416.8" cy="117.7" r="2.2"/><circle cx="422.5" cy="117.4" r="2"/><circle cx="428.7" cy="117.6" r="2"/><circle cx="434.8" cy="117.3" r="2.1"/><circle cx="440.1" cy="116.3" r="2.1"/><circle cx="445.8" cy="116.2" r="2"/><circle cx="452" cy="116.4" r="2.2"/><circle cx="457.8" cy="117.3" r="2.2"/><circle cx="463.3" cy="118.1" r="2"/><circle cx="469.1" cy="118.3" r="2"/><circle cx="474.8" cy="117.9" r="2.2"/><circle cx="399.8" cy="123.7" r="2.1"/><circle cx="405.7" cy="123.4" r="2.1"/><circle cx="411.7" cy="124" r="2"/><circle cx="417.1" cy="123.8" r="1.9"/><circle cx="423.4" cy="123.8" r="2.2"/><circle cx="429.8" cy="124.2" r="2.2"/><circle cx="435.6" cy="122.9" r="2.2"/><circle cx="365.5" cy="130.7" r="2.2"/><circle cx="371.3" cy="130.9" r="2.2"/><circle cx="376.9" cy="130.1" r="1.9"/><circle cx="382.9" cy="129.6" r="2.1"/><circle cx="389.3" cy="129.3" r="2.1"/><circle cx="395.3" cy="129.1" r="1.9"/><circle cx="401.3" cy="129.2" r="2.1"/><circle cx="360.3" cy="137.5" r="2.2"/><circle cx="367.1" cy="143.7" r="2"/><circle cx="359.6" cy="156.5" r="2.2"/><circle cx="359.4" cy="169.4" r="2.2"/><circle cx="365.1" cy="168.9" r="2.1"/><circle cx="370.9" cy="169.5" r="2.1"/><circle cx="376.2" cy="168.8" r="2"/><circle cx="405.6" cy="168.7" r="2.1"/><circle cx="412.3" cy="169.7" r="2.1"/><circle cx="418.1" cy="169.9" r="2.1"/><circle cx="423.1" cy="169.6" r="2"/><circle cx="429.3" cy="168.5" r="1.9"/><circle cx="359.4" cy="175.8" r="2.1"/><circle cx="429.7" cy="175.9" r="2.1"/><circle cx="435.6" cy="174.7" r="2.2"/><circle cx="441.7" cy="174.9" r="2.1"/><circle cx="446.6" cy="174.8" r="2"/><circle cx="453.2" cy="174.6" r="2.2"/><circle cx="458.5" cy="174.9" r="1.9"/><circle cx="464.3" cy="176.3" r="2.2"/><circle cx="470.5" cy="176" r="2.2"/><circle cx="354.1" cy="181.4" r="2.1"/><circle cx="441.4" cy="181.1" r="2"/><circle cx="447" cy="181.3" r="2.2"/><circle cx="452.2" cy="180.9" r="2.1"/><circle cx="457.8" cy="181.8" r="2.1"/><circle cx="463.8" cy="182.4" r="2.1"/><circle cx="469.6" cy="182.5" r="2"/><circle cx="475" cy="182.3" r="2.2"/><circle cx="348.8" cy="188.2" r="2"/><circle cx="354.7" cy="187.6" r="2.2"/><circle cx="474.6" cy="188.5" r="2.2"/><circle cx="349.5" cy="193.6" r="2.1"/><circle cx="355.3" cy="195.1" r="2.2"/><circle cx="354.5" cy="200.7" r="1.9"/><circle cx="359.8" cy="208.1" r="2"/><circle cx="359.5" cy="214.6" r="2.1"/><circle cx="359.6" cy="221.1" r="2.1"/><circle cx="365.3" cy="221.1" r="2.1"/><circle cx="360.5" cy="227.9" r="2.1"/><circle cx="366" cy="227.1" r="2.2"/><circle cx="371.6" cy="227.9" r="2"/><circle cx="480.4" cy="227.2" r="2.2"/><circle cx="360.6" cy="233.7" r="2.2"/><circle cx="367" cy="234.4" r="2"/><circle cx="372.3" cy="234.5" r="1.9"/><circle cx="480.2" cy="234" r="2.1"/></g>
<g fill="#1697b2"><circle cx="395.2" cy="58" r="2"/><circle cx="399.8" cy="58.8" r="2.2"/><circle cx="406.6" cy="59.7" r="1.9"/><circle cx="411.3" cy="60.1" r="2.2"/><circle cx="416.9" cy="59.8" r="2.1"/><circle cx="422.6" cy="59.3" r="2"/><circle cx="429.2" cy="59.7" r="2.1"/><circle cx="434.7" cy="58.3" r="2.2"/><circle cx="440.5" cy="58" r="2.1"/><circle cx="446" cy="58.1" r="2.1"/><circle cx="451.1" cy="59.1" r="2.2"/><circle cx="456.8" cy="58.7" r="2"/><circle cx="382.9" cy="64.9" r="2.2"/><circle cx="388.3" cy="64.5" r="2.1"/><circle cx="393.7" cy="64.8" r="2"/><circle cx="400.3" cy="65.7" r="2"/><circle cx="405.1" cy="66.1" r="2.1"/><circle cx="410.9" cy="66.3" r="2.2"/><circle cx="451.4" cy="65.4" r="1.9"/><circle cx="457.7" cy="65.3" r="2"/><circle cx="463.3" cy="66.5" r="2.2"/><circle cx="382.2" cy="72.3" r="2.2"/><circle cx="387.8" cy="71.8" r="2.2"/><circle cx="393.8" cy="71.5" r="2.1"/><circle cx="451.8" cy="71.4" r="2"/><circle cx="458.2" cy="71.9" r="2.1"/><circle cx="463.1" cy="72.1" r="1.9"/><circle cx="469.3" cy="73.1" r="1.9"/><circle cx="475.7" cy="72.3" r="2"/><circle cx="376.4" cy="78.6" r="1.9"/><circle cx="382.3" cy="78.7" r="2.2"/><circle cx="446.7" cy="78.2" r="1.9"/><circle cx="453" cy="78.5" r="2"/><circle cx="457.9" cy="78.6" r="2.1"/><circle cx="464.2" cy="78.8" r="2"/><circle cx="469.6" cy="79.7" r="1.9"/><circle cx="475.3" cy="79" r="1.9"/><circle cx="371.4" cy="85.6" r="2.1"/><circle cx="440.9" cy="83.8" r="2.1"/><circle cx="446.6" cy="83.9" r="2.1"/><circle cx="452.4" cy="84.3" r="2"/><circle cx="458.5" cy="84.4" r="2"/><circle cx="463.9" cy="85.7" r="2.1"/><circle cx="470.2" cy="85.3" r="2"/><circle cx="476" cy="85.6" r="1.9"/><circle cx="366.6" cy="92.1" r="2"/><circle cx="435.1" cy="91.4" r="2.2"/><circle cx="441" cy="90.9" r="1.9"/><circle cx="446.6" cy="90.3" r="2.2"/><circle cx="452.8" cy="91.6" r="2.2"/><circle cx="457.9" cy="91.9" r="1.9"/><circle cx="463.4" cy="91.3" r="2.1"/><circle cx="470" cy="91.8" r="1.9"/><circle cx="474.9" cy="92.6" r="2"/><circle cx="429.2" cy="98.2" r="2"/><circle cx="434.9" cy="97.8" r="2.2"/><circle cx="440.8" cy="97.8" r="2"/><circle cx="446.5" cy="96.8" r="2.1"/><circle cx="452.2" cy="97.5" r="2"/><circle cx="457.9" cy="98.4" r="2"/><circle cx="463.1" cy="98.6" r="2.2"/><circle cx="468.8" cy="98.7" r="2"/><circle cx="474.1" cy="98.5" r="2.2"/><circle cx="360.7" cy="104.8" r="2"/><circle cx="417.1" cy="104.6" r="2.2"/><circle cx="423.2" cy="105.4" r="2.1"/><circle cx="428.4" cy="103.9" r="2"/><circle cx="434.1" cy="103.7" r="2.1"/><circle cx="440.1" cy="103.5" r="2.1"/><circle cx="445.9" cy="103.9" r="2.2"/><circle cx="451.1" cy="103.7" r="2.2"/><circle cx="457" cy="104.2" r="2.2"/><circle cx="360.6" cy="110.9" r="2.2"/><circle cx="410.6" cy="111.7" r="2.2"/><circle cx="417.2" cy="111.6" r="1.9"/><circle cx="422" cy="111.7" r="2"/><circle cx="359.3" cy="118.1" r="2"/><circle cx="399.8" cy="117.2" r="2.2"/><circle cx="405.4" cy="117.8" r="2.2"/><circle cx="365.6" cy="124.8" r="2.2"/><circle cx="388.9" cy="123.6" r="2.1"/><circle cx="394.7" cy="122.9" r="2.2"/><circle cx="365.8" cy="150.2" r="1.9"/><circle cx="382.8" cy="169.1" r="2.2"/><circle cx="388.9" cy="167.7" r="2"/><circle cx="394.6" cy="168.4" r="2"/><circle cx="399.7" cy="168.2" r="2.1"/><circle cx="365.6" cy="176.3" r="2"/><circle cx="406.1" cy="174.7" r="2"/><circle cx="412.2" cy="176.3" r="2"/><circle cx="417.7" cy="175.7" r="2"/><circle cx="424.1" cy="176.3" r="2.2"/><circle cx="361" cy="181.8" r="2"/><circle cx="423.9" cy="182.5" r="2.2"/><circle cx="430.2" cy="182.1" r="2.2"/><circle cx="436.1" cy="181.4" r="2.2"/><circle cx="434.5" cy="187.6" r="2.2"/><circle cx="440.5" cy="187.8" r="1.9"/><circle cx="446.7" cy="187.9" r="1.9"/><circle cx="452.3" cy="187.4" r="1.9"/><circle cx="458.1" cy="188.6" r="2.2"/><circle cx="463.7" cy="188.1" r="2.2"/><circle cx="468.5" cy="188.8" r="2"/><circle cx="360.6" cy="194.9" r="2.1"/><circle cx="446.1" cy="193.9" r="2.1"/><circle cx="451.6" cy="194.2" r="2.2"/><circle cx="456.5" cy="194.3" r="2.2"/><circle cx="462.4" cy="195.6" r="2.1"/><circle cx="468.7" cy="195.8" r="2.2"/><circle cx="474.3" cy="195.8" r="1.9"/><circle cx="359.8" cy="201.2" r="2.2"/><circle cx="457" cy="201.2" r="2.1"/><circle cx="462.6" cy="202" r="2.2"/><circle cx="468.5" cy="201.4" r="1.9"/><circle cx="474.3" cy="201.1" r="2"/><circle cx="365.6" cy="207.7" r="2"/><circle cx="469.4" cy="208.8" r="2.1"/><circle cx="474.9" cy="208.4" r="2.2"/><circle cx="365.1" cy="214.9" r="2"/><circle cx="371.3" cy="214.2" r="2"/><circle cx="469.6" cy="214.4" r="2.2"/><circle cx="476.1" cy="214.3" r="2.1"/><circle cx="371.6" cy="221.6" r="2"/><circle cx="377.1" cy="220.5" r="2"/><circle cx="475.3" cy="221.1" r="2"/><circle cx="377.4" cy="226.9" r="2.2"/><circle cx="383.4" cy="226.1" r="2.1"/><circle cx="390" cy="226.2" r="2.2"/><circle cx="395.2" cy="225.6" r="2"/><circle cx="475.2" cy="228" r="1.9"/><circle cx="378.6" cy="233.7" r="2.2"/><circle cx="384.4" cy="233.5" r="2"/><circle cx="389.2" cy="232.5" r="2.2"/><circle cx="395.2" cy="233" r="2.1"/><circle cx="401.1" cy="232.9" r="2.2"/><circle cx="406.6" cy="233.8" r="2.1"/><circle cx="412.7" cy="233.9" r="2.1"/><circle cx="418" cy="233.5" r="2"/><circle cx="424.1" cy="234.4" r="2"/><circle cx="475" cy="234.2" r="1.9"/></g>
<g fill="#1b67b2"><circle cx="417.2" cy="65.8" r="2.2"/><circle cx="423" cy="66.1" r="2.2"/><circle cx="428.3" cy="66.1" r="2.2"/><circle cx="433.6" cy="65.1" r="1.9"/><circle cx="439.3" cy="65.1" r="2.1"/><circle cx="446.1" cy="64.6" r="2.2"/><circle cx="399.3" cy="71.6" r="2.2"/><circle cx="405.6" cy="71.8" r="2.2"/><circle cx="411" cy="72" r="2.2"/><circle cx="440.7" cy="71.6" r="2.2"/><circle cx="446.3" cy="71" r="2.2"/><circle cx="387.9" cy="77.8" r="2.1"/><circle cx="394.3" cy="78" r="2.2"/><circle cx="440.6" cy="77.4" r="2.1"/><circle cx="377.4" cy="85.3" r="2.1"/><circle cx="382.8" cy="85" r="2.1"/><circle cx="430" cy="85.4" r="2"/><circle cx="435.8" cy="84.9" r="2.1"/><circle cx="371.6" cy="91.6" r="2.1"/><circle cx="424.7" cy="92.3" r="2.1"/><circle cx="430.1" cy="92.2" r="2.2"/><circle cx="366.4" cy="99.1" r="2.1"/><circle cx="418" cy="98.7" r="2.2"/><circle cx="423.4" cy="98.2" r="2.1"/><circle cx="411.5" cy="104.6" r="2"/><circle cx="405.5" cy="111.3" r="2.2"/><circle cx="364.8" cy="118.1" r="2"/><circle cx="371.4" cy="123.8" r="2.1"/><circle cx="377.2" cy="124" r="1.9"/><circle cx="382.6" cy="123.5" r="2.1"/><circle cx="371.2" cy="175.9" r="2"/><circle cx="400.7" cy="175.3" r="2.1"/><circle cx="366.2" cy="182" r="1.9"/><circle cx="412.4" cy="181.9" r="2.2"/><circle cx="418" cy="182.9" r="2.2"/><circle cx="361.5" cy="188.4" r="1.9"/><circle cx="423.2" cy="188.8" r="2.2"/><circle cx="428.9" cy="188.3" r="2"/><circle cx="434.2" cy="194" r="2"/><circle cx="439.8" cy="194" r="2"/><circle cx="365.3" cy="202.1" r="2.2"/><circle cx="446.1" cy="200.5" r="2.1"/><circle cx="450.9" cy="200.9" r="2.2"/><circle cx="371.1" cy="207.8" r="2.2"/><circle cx="452.2" cy="207.1" r="2"/><circle cx="457.7" cy="207.4" r="2.1"/><circle cx="463.4" cy="207.5" r="2"/><circle cx="458.5" cy="214.2" r="2"/><circle cx="463.9" cy="214.5" r="2.2"/><circle cx="383.3" cy="220.3" r="2.2"/><circle cx="389.2" cy="220" r="1.9"/><circle cx="394.9" cy="219.6" r="2"/><circle cx="464.3" cy="221" r="2.1"/><circle cx="470" cy="221.2" r="2.1"/><circle cx="401.7" cy="226.4" r="2.2"/><circle cx="406.5" cy="227.2" r="2.1"/><circle cx="413" cy="227.3" r="2"/><circle cx="418.3" cy="227.7" r="2"/><circle cx="423.7" cy="227.8" r="2.2"/><circle cx="463.9" cy="226.9" r="2"/><circle cx="469.4" cy="227.1" r="2.2"/><circle cx="429.1" cy="233.3" r="2.2"/><circle cx="434.4" cy="233.2" r="2"/><circle cx="440.5" cy="232.4" r="2.1"/><circle cx="446.8" cy="233" r="2"/><circle cx="451.3" cy="232.6" r="2.2"/><circle cx="457.8" cy="233.6" r="2"/><circle cx="463.2" cy="233.2" r="1.9"/><circle cx="469.1" cy="233.7" r="1.9"/></g>
<g fill="#2d43b2"><circle cx="417.5" cy="72.3" r="2.2"/><circle cx="422.6" cy="73.1" r="2.1"/><circle cx="428.9" cy="71.9" r="2.1"/><circle cx="434.4" cy="71.6" r="2"/><circle cx="400.3" cy="78.2" r="2"/><circle cx="405.3" cy="79" r="2.1"/><circle cx="429" cy="79.1" r="2.2"/><circle cx="435" cy="78.3" r="2.1"/><circle cx="388.8" cy="84.7" r="1.9"/><circle cx="394.8" cy="83.9" r="1.9"/><circle cx="424" cy="85" r="2.2"/><circle cx="377.7" cy="91.4" r="1.9"/><circle cx="418.3" cy="91.5" r="2"/><circle cx="412.6" cy="98.5" r="2"/><circle cx="366" cy="105.4" r="2.1"/><circle cx="405.9" cy="104.2" r="2.2"/><circle cx="365.2" cy="111.1" r="2.2"/><circle cx="399.5" cy="110.5" r="2.1"/><circle cx="371.4" cy="117.8" r="2"/><circle cx="394.2" cy="116" r="2.1"/><circle cx="377.7" cy="176.1" r="1.9"/><circle cx="383" cy="174.4" r="2"/><circle cx="389.3" cy="174.1" r="1.9"/><circle cx="394.8" cy="174.6" r="2.2"/><circle cx="372.1" cy="181.9" r="2.2"/><circle cx="406.9" cy="182.1" r="2"/><circle cx="366.5" cy="189.1" r="2.1"/><circle cx="417.8" cy="188.8" r="2.1"/><circle cx="366.5" cy="194.8" r="2.1"/><circle cx="423.4" cy="195.1" r="2.2"/><circle cx="428.1" cy="194.9" r="2.1"/><circle cx="434.1" cy="200.2" r="1.9"/><circle cx="439.4" cy="200.9" r="2"/><circle cx="440.8" cy="207.4" r="2.2"/><circle cx="446.3" cy="206.4" r="2"/><circle cx="377.1" cy="214.2" r="2"/><circle cx="382.2" cy="213.6" r="2.1"/><circle cx="446.4" cy="212.7" r="2.2"/><circle cx="452.2" cy="213.3" r="2.1"/><circle cx="400.8" cy="219.5" r="2.1"/><circle cx="406.8" cy="220" r="1.9"/><circle cx="412.7" cy="220.5" r="2.2"/><circle cx="418.4" cy="220.6" r="2.2"/><circle cx="452.5" cy="219.5" r="2.1"/><circle cx="458.7" cy="220.6" r="2.1"/><circle cx="429.6" cy="227.3" r="2"/><circle cx="434.9" cy="227.1" r="2.2"/><circle cx="440.7" cy="226.5" r="2.2"/><circle cx="447" cy="225.6" r="2"/><circle cx="453" cy="227" r="2.2"/><circle cx="458.3" cy="226.3" r="2.2"/></g>
<g fill="#4a2dad"><circle cx="412.1" cy="78.9" r="2"/><circle cx="417.4" cy="79" r="2.1"/><circle cx="423.1" cy="79" r="2.2"/><circle cx="400.1" cy="84.5" r="2.1"/><circle cx="406" cy="84.9" r="1.9"/><circle cx="412.6" cy="85.2" r="2.1"/><circle cx="418.4" cy="85.7" r="2"/><circle cx="383.2" cy="91.1" r="2.1"/><circle cx="389.2" cy="90.6" r="2"/><circle cx="395.8" cy="90.1" r="2.2"/><circle cx="401.1" cy="91.3" r="2.1"/><circle cx="406.5" cy="91" r="2.2"/><circle cx="413.1" cy="92.4" r="2.2"/><circle cx="400.6" cy="97.3" r="2"/><circle cx="407.1" cy="97.6" r="2"/><circle cx="400.8" cy="103.6" r="1.9"/><circle cx="393.6" cy="109.9" r="2"/><circle cx="376.3" cy="118" r="2.2"/><circle cx="388.4" cy="116.3" r="2.1"/><circle cx="361.3" cy="143.3" r="1.9"/><circle cx="360.2" cy="150.2" r="2.2"/><circle cx="401" cy="181.1" r="2.1"/><circle cx="406.6" cy="188.5" r="2"/><circle cx="412" cy="189" r="2.1"/><circle cx="417.7" cy="195.9" r="2.2"/><circle cx="371" cy="201.1" r="2"/><circle cx="422.2" cy="201.2" r="2.1"/><circle cx="428" cy="200.9" r="2.2"/><circle cx="376.3" cy="207.9" r="2"/><circle cx="428.9" cy="208.1" r="1.9"/><circle cx="434.4" cy="207.3" r="2.1"/><circle cx="388.9" cy="212.8" r="1.9"/><circle cx="394.3" cy="213.4" r="1.9"/><circle cx="399.5" cy="214" r="2"/><circle cx="405.9" cy="213.8" r="2.1"/><circle cx="412.3" cy="214.4" r="2.2"/><circle cx="417.4" cy="214.5" r="2.1"/><circle cx="423.6" cy="214.7" r="2"/><circle cx="428.9" cy="213.8" r="2"/><circle cx="435.3" cy="213.9" r="2.2"/><circle cx="441.6" cy="213.1" r="1.9"/><circle cx="423.7" cy="220.4" r="1.9"/><circle cx="430.1" cy="221.2" r="1.9"/><circle cx="435.1" cy="219.8" r="2"/><circle cx="441" cy="219.7" r="2.2"/><circle cx="446.7" cy="219.6" r="1.9"/></g>
<g fill="#7430ad"><circle cx="372.6" cy="98.3" r="2.2"/><circle cx="389.9" cy="96.9" r="2.2"/><circle cx="395.2" cy="97.2" r="2.1"/><circle cx="372.2" cy="104.4" r="2.1"/><circle cx="394.5" cy="103" r="2"/><circle cx="371.6" cy="111.2" r="2"/><circle cx="381.9" cy="116.8" r="2.2"/><circle cx="378" cy="181.5" r="2"/><circle cx="395.4" cy="180.5" r="2"/><circle cx="372.1" cy="188.3" r="2"/><circle cx="400.9" cy="187.3" r="2"/><circle cx="372.5" cy="195.6" r="2"/><circle cx="406" cy="195" r="2"/><circle cx="412" cy="194.6" r="1.9"/><circle cx="411.4" cy="201.3" r="2"/><circle cx="417" cy="202.3" r="1.9"/><circle cx="382.3" cy="207" r="2"/><circle cx="388.5" cy="207.3" r="2.2"/><circle cx="394" cy="206.4" r="2.2"/><circle cx="400.1" cy="206.9" r="2.2"/><circle cx="405.5" cy="207.1" r="1.9"/><circle cx="411.3" cy="208.5" r="2.1"/><circle cx="417" cy="208.2" r="2.2"/><circle cx="422.8" cy="207.9" r="2.2"/></g>
<g fill="#b224a2"><circle cx="378.3" cy="97.9" r="2"/><circle cx="383.7" cy="98.2" r="2"/><circle cx="377.7" cy="104.6" r="2.2"/><circle cx="383.7" cy="103.6" r="2.2"/><circle cx="388.5" cy="103.3" r="2.1"/><circle cx="376.9" cy="111.4" r="2.2"/><circle cx="383.2" cy="110.7" r="2"/><circle cx="388.6" cy="109.7" r="2.1"/><circle cx="383.2" cy="181.9" r="2"/><circle cx="389.2" cy="181.3" r="2.2"/><circle cx="378" cy="188.5" r="2.2"/><circle cx="384.3" cy="187.5" r="2.1"/><circle cx="389.8" cy="188.1" r="1.9"/><circle cx="395.3" cy="187.3" r="2"/><circle cx="377.5" cy="194.5" r="2"/><circle cx="383.5" cy="194.6" r="2.2"/><circle cx="388.5" cy="194.6" r="2"/><circle cx="394.5" cy="194.1" r="2"/><circle cx="400.3" cy="194.2" r="2.2"/><circle cx="377.4" cy="201.3" r="2.2"/><circle cx="382.9" cy="200.4" r="1.9"/><circle cx="387.9" cy="199.9" r="1.9"/><circle cx="394.4" cy="199.9" r="2.2"/><circle cx="399.2" cy="200.3" r="2"/><circle cx="405.5" cy="200.6" r="2.1"/></g>
<g fill="#555"><ellipse cx="480.2" cy="53" rx="2.2" ry="2.1"/><ellipse cx="485.8" cy="52.9" rx="2" ry="1.8"/><ellipse cx="492.1" cy="52.2" rx="2.3" ry="2.4"/><ellipse cx="480.4" cy="59.4" rx="2" ry="2.1"/><ellipse cx="485.3" cy="59.3" rx="1.9" ry="2.2"/><ellipse cx="491.6" cy="59" rx="2.1" ry="2.1"/><ellipse cx="480.2" cy="66.1" rx="2" ry="1.9"/><ellipse cx="486.9" cy="65.2" rx="2" ry="1.9"/><ellipse cx="491.7" cy="64.9" rx="1.9" ry="2"/><ellipse cx="481.6" cy="71.7" rx="1.9" ry="2.1"/><ellipse cx="486.8" cy="72.1" rx="1.9" ry="2"/><ellipse cx="493.2" cy="70.8" rx="2" ry="2"/><ellipse cx="481.1" cy="78.4" rx="2.1" ry="2.2"/><ellipse cx="487" cy="78.3" rx="1.9" ry="2.2"/><ellipse cx="492.8" cy="77.6" rx="2" ry="2.3"/><ellipse cx="482" cy="84.9" rx="1.9" ry="1.8"/><ellipse cx="487.2" cy="84.7" rx="1.9" ry="1.8"/><ellipse cx="492.7" cy="84.8" rx="2.3" ry="2.3"/><ellipse cx="480.6" cy="91.6" rx="2.2" ry="2.2"/><ellipse cx="486.2" cy="90.6" rx="2.2" ry="2.5"/><ellipse cx="491.8" cy="91.3" rx="2.2" ry="2"/><ellipse cx="480.4" cy="98.3" rx="2.3" ry="2.1"/><ellipse cx="485.6" cy="97.7" rx="2.2" ry="2.3"/><ellipse cx="491" cy="96.8" rx="1.9" ry="1.8"/><ellipse cx="479.9" cy="103.9" rx="2.2" ry="2.1"/><ellipse cx="486" cy="103.6" rx="2" ry="1.9"/><ellipse cx="492.1" cy="103.4" rx="2.1" ry="1.9"/><ellipse cx="480.4" cy="111.2" rx="2.1" ry="2.4"/><ellipse cx="486.9" cy="110.2" rx="1.9" ry="1.8"/><ellipse cx="492.6" cy="110.3" rx="2.1" ry="1.9"/><ellipse cx="481.6" cy="117.5" rx="2" ry="2.1"/><ellipse cx="486.7" cy="116.6" rx="2.1" ry="2.1"/><ellipse cx="492.5" cy="116" rx="2.3" ry="2.2"/><ellipse cx="481.9" cy="123.6" rx="2.2" ry="2.3"/><ellipse cx="487.5" cy="123.6" rx="2.3" ry="2.5"/><ellipse cx="493.1" cy="123.1" rx="1.9" ry="2.2"/><ellipse cx="481.7" cy="130.7" rx="2.3" ry="2.6"/><ellipse cx="487.3" cy="130.4" rx="2" ry="2.1"/><ellipse cx="493.1" cy="129.5" rx="1.9" ry="1.9"/><ellipse cx="481.4" cy="137.1" rx="2.1" ry="2.3"/><ellipse cx="486.1" cy="135.8" rx="2.3" ry="2.5"/><ellipse cx="491.6" cy="136.1" rx="2.1" ry="2.3"/><ellipse cx="480.1" cy="143.2" rx="2.1" ry="2.3"/><ellipse cx="485.3" cy="142.7" rx="2.2" ry="2.4"/><ellipse cx="491.6" cy="142.8" rx="2.1" ry="2.2"/><ellipse cx="480.3" cy="150.1" rx="2" ry="2.2"/><ellipse cx="485.8" cy="149.5" rx="2" ry="2"/><ellipse cx="491.5" cy="148.4" rx="2.1" ry="2.1"/><ellipse cx="481.1" cy="156.1" rx="2.1" ry="2.2"/><ellipse cx="485.9" cy="155.2" rx="2.2" ry="2.2"/><ellipse cx="492.1" cy="155.3" rx="2" ry="1.9"/><ellipse cx="481.7" cy="162.9" rx="2" ry="2"/><ellipse cx="487.2" cy="162.5" rx="2" ry="1.9"/><ellipse cx="492.7" cy="161.4" rx="2.1" ry="2.1"/><ellipse cx="481.2" cy="169.5" rx="2.2" ry="2.4"/><ellipse cx="487.2" cy="169.1" rx="2.3" ry="2.5"/><ellipse cx="492.7" cy="167.6" rx="1.9" ry="2.1"/><ellipse cx="481.7" cy="175.9" rx="2" ry="2.2"/><ellipse cx="487" cy="175.1" rx="1.9" ry="2"/><ellipse cx="492.7" cy="174.8" rx="2" ry="1.8"/><ellipse cx="480.8" cy="181.4" rx="1.9" ry="1.9"/><ellipse cx="486.3" cy="181.6" rx="2.2" ry="2"/><ellipse cx="492.7" cy="180.9" rx="2" ry="2.2"/><ellipse cx="479.8" cy="188.8" rx="2" ry="1.9"/><ellipse cx="486.3" cy="188.3" rx="2" ry="2"/><ellipse cx="491.2" cy="187" rx="2.2" ry="2"/><ellipse cx="479.6" cy="195.1" rx="2.2" ry="2.4"/><ellipse cx="486.1" cy="194.4" rx="1.9" ry="1.8"/><ellipse cx="491.3" cy="194.3" rx="2.1" ry="2.1"/><ellipse cx="481.1" cy="201" rx="1.9" ry="1.9"/><ellipse cx="486.4" cy="200.8" rx="1.9" ry="2"/><ellipse cx="492.1" cy="200.5" rx="2.3" ry="2.5"/><ellipse cx="481.6" cy="208.2" rx="2.3" ry="2.2"/><ellipse cx="487.3" cy="207.4" rx="2.1" ry="2.3"/><ellipse cx="493.5" cy="207.4" rx="2" ry="2.1"/><ellipse cx="481.7" cy="214.5" rx="2.2" ry="2.2"/><ellipse cx="487.2" cy="213.7" rx="2" ry="1.9"/><ellipse cx="492.8" cy="212.9" rx="2" ry="2.2"/><ellipse cx="481.2" cy="220.6" rx="2.1" ry="2.1"/><ellipse cx="487" cy="220.3" rx="2" ry="1.9"/><ellipse cx="492.5" cy="219.7" rx="2" ry="2"/><ellipse cx="486.6" cy="226.1" rx="2" ry="2.1"/><ellipse cx="492.7" cy="225.9" rx="2.2" ry="2.5"/><ellipse cx="485.8" cy="232.9" rx="2" ry="2.3"/><ellipse cx="491.6" cy="233" rx="2.2" ry="2.2"/></g>
</g>
<ellipse cx="301" cy="149.5" rx="52.5" ry="56.5" fill="#000" stroke="#fff" stroke-width="4.4"/>
<ellipse cx="301" cy="149.5" rx="53.6" ry="57.6" fill="none" stroke="#4a4a4a" stroke-width="1.9" stroke-dasharray="2.2 4.1"/>
<ellipse cx="301" cy="149.5" rx="51.5" ry="55.5" fill="#000"/>
</g>
<line x1="352" y1="147.2" x2="494.5" y2="147.2" stroke="#000" stroke-width="2.9"/>
<rect x="498.2" y="52.5" width="13.6" height="11.8" fill="#ff0000"/>
<rect x="498.2" y="64" width="13.6" height="11.8" fill="#ff5a00"/>
<rect x="498.2" y="75.6" width="13.6" height="11.8" fill="#ffa500"/>
<rect x="498.2" y="87.2" width="13.6" height="11.8" fill="#ffff00"/>
<rect x="498.2" y="98.7" width="13.6" height="11.8" fill="#a8f000"/>
<rect x="498.2" y="110.2" width="13.6" height="11.8" fill="#00e010"/>
<rect x="498.2" y="121.8" width="13.6" height="11.8" fill="#00e010"/>
<rect x="498.2" y="133.4" width="13.6" height="11.8" fill="#00e010"/>
<rect x="498.2" y="144.9" width="13.6" height="11.8" fill="#00f090"/>
<rect x="498.2" y="156.4" width="13.6" height="11.8" fill="#00ffd8"/>
<rect x="498.2" y="168" width="13.6" height="11.8" fill="#00c8ff"/>
<rect x="498.2" y="179.6" width="13.6" height="11.8" fill="#0080ff"/>
<rect x="498.2" y="191.1" width="13.6" height="11.8" fill="#0020ff"/>
<rect x="498.2" y="202.7" width="13.6" height="11.8" fill="#4000ff"/>
<rect x="498.2" y="214.2" width="13.6" height="11.8" fill="#a000ff"/>
<rect x="498.2" y="225.8" width="13.6" height="11.8" fill="#ff00ff"/>
<line x1="498.2" x2="511.8" y1="64" y2="64" stroke="#000" stroke-opacity="0.35" stroke-width="0.6"/>
<line x1="498.2" x2="511.8" y1="75.6" y2="75.6" stroke="#000" stroke-opacity="0.35" stroke-width="0.6"/>
<line x1="498.2" x2="511.8" y1="87.2" y2="87.2" stroke="#000" stroke-opacity="0.35" stroke-width="0.6"/>
<line x1="498.2" x2="511.8" y1="98.7" y2="98.7" stroke="#000" stroke-opacity="0.35" stroke-width="0.6"/>
<line x1="498.2" x2="511.8" y1="110.2" y2="110.2" stroke="#000" stroke-opacity="0.35" stroke-width="0.6"/>
<line x1="498.2" x2="511.8" y1="121.8" y2="121.8" stroke="#000" stroke-opacity="0.35" stroke-width="0.6"/>
<line x1="498.2" x2="511.8" y1="133.4" y2="133.4" stroke="#000" stroke-opacity="0.35" stroke-width="0.6"/>
<line x1="498.2" x2="511.8" y1="144.9" y2="144.9" stroke="#000" stroke-opacity="0.35" stroke-width="0.6"/>
<line x1="498.2" x2="511.8" y1="156.4" y2="156.4" stroke="#000" stroke-opacity="0.35" stroke-width="0.6"/>
<line x1="498.2" x2="511.8" y1="168" y2="168" stroke="#000" stroke-opacity="0.35" stroke-width="0.6"/>
<line x1="498.2" x2="511.8" y1="179.6" y2="179.6" stroke="#000" stroke-opacity="0.35" stroke-width="0.6"/>
<line x1="498.2" x2="511.8" y1="191.1" y2="191.1" stroke="#000" stroke-opacity="0.35" stroke-width="0.6"/>
<line x1="498.2" x2="511.8" y1="202.7" y2="202.7" stroke="#000" stroke-opacity="0.35" stroke-width="0.6"/>
<line x1="498.2" x2="511.8" y1="214.2" y2="214.2" stroke="#000" stroke-opacity="0.35" stroke-width="0.6"/>
<line x1="498.2" x2="511.8" y1="225.8" y2="225.8" stroke="#000" stroke-opacity="0.35" stroke-width="0.6"/>
<rect x="498.2" y="52.5" width="13.6" height="184.8" fill="none" stroke="#5a4a3a" stroke-opacity="0.7" stroke-width="0.8"/>
<g fill="none" stroke="#1030ff" stroke-width="1.6" stroke-linecap="round" stroke-linejoin="round"><path d="M43,193.5 V237.8 H85.5"/><path d="M39.5,198 L43,193.5 L46.5,198"/><path d="M81,234.3 L85.5,237.8 L81,241.3"/></g>
<g fill="none" stroke="#1030ff" stroke-width="1.6" stroke-linecap="round" stroke-linejoin="round"><path d="M301.8,188.5 V235.2 H343.5"/><path d="M298.3,193 L301.8,188.5 L305.3,193"/><path d="M339,231.7 L343.5,235.2 L339,238.7"/></g>
<!-- chart a --><g stroke="#d9d9d9" stroke-width="0.9"><line x1="46.4" x2="229.2" y1="400.7" y2="400.7"/><line x1="46.4" x2="229.2" y1="378.8" y2="378.8"/><line x1="46.4" x2="229.2" y1="357" y2="357"/><line x1="46.4" x2="229.2" y1="335.1" y2="335.1"/><line x1="46.4" x2="229.2" y1="313.3" y2="313.3"/><line x1="46.4" x2="229.2" y1="291.5" y2="291.5"/><line x1="107" x2="107" y1="291.5" y2="422.5"/><line x1="167.6" x2="167.6" y1="291.5" y2="422.5"/><line x1="228.2" x2="228.2" y1="291.5" y2="422.5"/></g>
<polyline fill="none" stroke="#3f86e0" stroke-width="1.5" stroke-linejoin="round" points="104.3,317 109,325.4 113.8,333.2 118.5,340.6 123.1,347.2 126.5,351.2 130.1,354.4 134.5,357.4 139.4,360 146,363 153.3,366 160,368.4 167.3,370.6 174,373 181.2,376 188,379.2 195.2,382.7 202,386.4 209.1,390.5 214,394.2 218.4,398 222,401.4 225.6,405"/>
<polyline fill="none" stroke="#f29450" stroke-width="1.5" stroke-linejoin="round" points="104.3,317.4 109,325.2 113.8,332.7 118.5,340 123.1,346.7 126.5,350.6 130.1,353.6 134.5,356.6 139.4,359.2 146,362.2 153.3,365.3 160,368 167.3,370.8 174,373.6 181.2,376.9 188,380.2 195.2,383.8 202,387.6 209.1,391.7 214,395.4 218.4,399.2 222,402.4 225.6,405.9"/>
<g fill="none" stroke="#1a1a1a" stroke-width="1.4" stroke-linejoin="miter"><path d="M45.6,291.5 V422.6 H235.5"/><path d="M42.4,295 L45.6,291 L48.8,295"/><path d="M232,419.4 L236,422.6 L232,425.8"/></g>
<line x1="50.5" x2="66.2" y1="358.5" y2="358.5" stroke="#3f86e0" stroke-width="1.5"/>
<line x1="50.5" x2="66.2" y1="392.4" y2="392.4" stroke="#f29450" stroke-width="1.5"/>
<rect x="46.8" y="280" width="52" height="13.5" fill="#fff"/>
<!-- chart b --><g stroke="#d9d9d9" stroke-width="0.9"><line x1="276.9" x2="509.1" y1="326.8" y2="326.8"/><line x1="276.9" x2="509.1" y1="363.4" y2="363.4"/><line x1="276.9" x2="509.1" y1="400" y2="400"/><line x1="276.9" x2="509.1" y1="436.6" y2="436.6"/><line x1="354.3" x2="354.3" y1="290.2" y2="436.6"/><line x1="431.7" x2="431.7" y1="290.2" y2="436.6"/><line x1="509.1" x2="509.1" y1="290.2" y2="436.6"/></g>
<polyline fill="none" stroke="#3f86e0" stroke-width="1.4" stroke-linejoin="round" points="349.8,420.6 354.7,421.3 358.7,397.7 362.9,418 367.8,399 372.7,377.7 377.6,359.7 382.5,351.9 387.4,346 392.4,340.1 398.9,334.9 402.8,331.6 405.4,324.7 408.1,330.3 413.6,327 421.8,323.7 426.7,325.1 430,326.4 434.9,329.6 439.8,330.3 444.7,328.7 449.6,332.3 454.5,336.2 459.4,338.1 463.7,337.5 467.6,334.5 471.5,339.5 475.8,342.7 480.7,345.3 485.6,345 490.5,344.7 500.3,344 506.9,342.7"/>
<polyline fill="none" stroke="#f29450" stroke-width="1.6" stroke-linejoin="round" points="349.8,413.1 359.6,399 367.8,386.9 372.7,373.8 377.6,362.4 382.5,353.2 387.4,346.6 392.4,341.1 398.9,335.5 405.4,331.6 413.6,329 421.8,328.3 431.6,330.3 441.4,332.3 451.3,335.5 461.1,338.8 470.9,341.7 480.7,344 490.5,344.7 500.3,344 506.9,343.4"/>
<polyline fill="none" stroke="#5a8a3a" stroke-width="1" stroke-dasharray="3 2" points="349.8,413.1 354.9,405.9 359.9,398.6 364.8,391.3 369,383.7 372.1,375.4 375.5,367.3 379.2,359.4 383.6,351.8 389,344.8 395.3,338.6 402.3,333.5 410.4,330 419,328.5 427.7,329.5 436.3,331.2 444.8,333.4 453.2,336.2 461.5,338.9 469.9,341.5 478.5,343.5 487.2,344.5 496,344.3 504.8,343.6"/>
<path fill="none" stroke="#808080" stroke-width="1.35" d="M349.8,409.4 v7.4 M346.6,411.3 l6.4,3.6 M346.6,414.9 l6.4,-3.6 M354.9,402.2 v7.4 M351.7,404.1 l6.4,3.6 M351.7,407.7 l6.4,-3.6 M359.9,394.9 v7.4 M356.7,396.8 l6.4,3.6 M356.7,400.4 l6.4,-3.6 M364.8,387.6 v7.4 M361.6,389.5 l6.4,3.6 M361.6,393.1 l6.4,-3.6 M369,380 v7.4 M365.8,381.9 l6.4,3.6 M365.8,385.5 l6.4,-3.6 M372.1,371.7 v7.4 M368.9,373.6 l6.4,3.6 M368.9,377.2 l6.4,-3.6 M375.5,363.6 v7.4 M372.3,365.5 l6.4,3.6 M372.3,369.1 l6.4,-3.6 M379.2,355.7 v7.4 M376,357.6 l6.4,3.6 M376,361.2 l6.4,-3.6 M383.6,348.1 v7.4 M380.4,350 l6.4,3.6 M380.4,353.6 l6.4,-3.6 M389,341.1 v7.4 M385.8,343 l6.4,3.6 M385.8,346.6 l6.4,-3.6 M395.3,334.9 v7.4 M392.1,336.8 l6.4,3.6 M392.1,340.4 l6.4,-3.6 M402.3,329.8 v7.4 M399.1,331.7 l6.4,3.6 M399.1,335.3 l6.4,-3.6 M410.4,326.3 v7.4 M407.2,328.2 l6.4,3.6 M407.2,331.8 l6.4,-3.6 M419,324.8 v7.4 M415.8,326.7 l6.4,3.6 M415.8,330.3 l6.4,-3.6 M427.7,325.8 v7.4 M424.5,327.7 l6.4,3.6 M424.5,331.3 l6.4,-3.6 M436.3,327.5 v7.4 M433.1,329.4 l6.4,3.6 M433.1,333 l6.4,-3.6 M444.8,329.7 v7.4 M441.6,331.6 l6.4,3.6 M441.6,335.2 l6.4,-3.6 M453.2,332.5 v7.4 M450,334.4 l6.4,3.6 M450,338 l6.4,-3.6 M461.5,335.2 v7.4 M458.3,337.1 l6.4,3.6 M458.3,340.7 l6.4,-3.6 M469.9,337.8 v7.4 M466.7,339.7 l6.4,3.6 M466.7,343.3 l6.4,-3.6 M478.5,339.8 v7.4 M475.3,341.7 l6.4,3.6 M475.3,345.3 l6.4,-3.6 M487.2,340.8 v7.4 M484,342.7 l6.4,3.6 M484,346.3 l6.4,-3.6 M496,340.6 v7.4 M492.8,342.5 l6.4,3.6 M492.8,346.1 l6.4,-3.6 M504.8,339.9 v7.4 M501.6,341.8 l6.4,3.6 M501.6,345.4 l6.4,-3.6"/>
<rect x="390" y="352" width="158" height="88" fill="#fff"/>
<line x1="391" x2="412" y1="360.6" y2="360.6" stroke="#3f86e0" stroke-width="1.4"/>
<line x1="391" x2="412" y1="396.6" y2="396.6" stroke="#f29450" stroke-width="1.5"/>
<line x1="391" x2="412" y1="430.5" y2="430.5" stroke="#5a8a3a" stroke-width="1.1" stroke-dasharray="4 2.2"/>
<path fill="none" stroke="#808080" stroke-width="1.35" d="M401.5,426.8 v7.4 M398.3,428.7 l6.4,3.6 M398.3,432.3 l6.4,-3.6"/>
<g fill="none" stroke="#111" stroke-width="1.5"><path d="M277.3,442.5 V290.2 H513.5"/><path d="M274.4,438.7 L277.3,443 L280.2,438.7"/><path d="M509.5,286.8 L514,290.2 L509.5,293.6"/></g>
<text x="27.2" y="196.7" font-size="15.4" font-weight="bold" textLength="11" lengthAdjust="spacingAndGlyphs">Y</text>
<text x="89" y="232.8" font-size="15.4" font-weight="bold" textLength="10.6" lengthAdjust="spacingAndGlyphs">X</text>
<text x="285.2" y="191.9" font-size="15.4" font-weight="bold" textLength="11" lengthAdjust="spacingAndGlyphs">Y</text>
<text x="349.4" y="229.1" font-size="15.4" font-weight="bold" textLength="10.6" lengthAdjust="spacingAndGlyphs">X</text>
<text x="85.8" y="44" font-size="14.7" textLength="92.4" lengthAdjust="spacingAndGlyphs">DIC step 1 px</text>
<text x="231.5" y="38" font-size="18.7">u</text>
<text x="243" y="41.2" font-size="13" class="ser">x</text>
<text x="253.6" y="38" font-size="18.7" textLength="43.6" lengthAdjust="spacingAndGlyphs">[mm]</text>
<text x="265" y="61.3" font-size="18.3">2.2</text>
<text x="264" y="242.4" font-size="18.3">1.9</text>
<text x="429.5" y="18.4" font-size="17.5" class="ser">ε</text>
<text x="436.3" y="20.8" font-size="13" class="ser">x</text>
<text x="445.6" y="18.4" font-size="18.7" textLength="99.8" lengthAdjust="spacingAndGlyphs">Lagrangian</text>
<text x="303.3" y="38.9" font-size="14.7" textLength="194.7" lengthAdjust="spacingAndGlyphs">VSG = 33 px (DIC step 1 px)</text>
<text x="503.5" y="40.7" font-size="16.7" textLength="29" lengthAdjust="spacingAndGlyphs">×10</text>
<text x="534.5" y="34.3" font-size="10.5" textLength="14.5" lengthAdjust="spacingAndGlyphs">−3</text>
<text x="520.3" y="60.3" font-size="17.5">2</text>
<text x="518.3" y="242.4" font-size="18.3">-18</text>
<text x="67.7" y="362.9" font-size="12.4" class="cal" textLength="53" lengthAdjust="spacingAndGlyphs">DIC noisy</text>
<text x="67.7" y="380.4" font-size="12.4" class="cal" textLength="60.7" lengthAdjust="spacingAndGlyphs">(step 1 px)</text>
<text x="67.7" y="396.8" font-size="12.4" class="cal" textLength="75.5" lengthAdjust="spacingAndGlyphs">DIC not noisy</text>
<text x="67.7" y="413.1" font-size="12.4" class="cal" textLength="60.7" lengthAdjust="spacingAndGlyphs">(step 7 px)</text>
<text x="173.9" y="417.8" font-size="13" class="cal" textLength="8.4" lengthAdjust="spacingAndGlyphs">X</text>
<text x="185.5" y="417.8" font-size="13" class="cal" textLength="34.6" lengthAdjust="spacingAndGlyphs">[mm]</text>
<text x="46.1" y="291.8" font-size="13" class="cal" textLength="7.6" lengthAdjust="spacingAndGlyphs">u</text>
<text x="53.7" y="294.7" font-size="9" class="cal" textLength="5.2" lengthAdjust="spacingAndGlyphs">x</text>
<text x="62.4" y="291.8" font-size="13" class="cal" textLength="35.6" lengthAdjust="spacingAndGlyphs">[mm]</text>
<text x="11.8" y="428" font-size="12.5" class="cal" textLength="19.4" lengthAdjust="spacingAndGlyphs">1.9</text>
<text x="2.9" y="405.9" font-size="12.5" class="cal" textLength="28.3" lengthAdjust="spacingAndGlyphs">1.92</text>
<text x="2.9" y="383.9" font-size="12.5" class="cal" textLength="28.3" lengthAdjust="spacingAndGlyphs">1.94</text>
<text x="2.9" y="361.8" font-size="12.5" class="cal" textLength="28.3" lengthAdjust="spacingAndGlyphs">1.96</text>
<text x="2.9" y="339.7" font-size="12.5" class="cal" textLength="28.3" lengthAdjust="spacingAndGlyphs">1.98</text>
<text x="23" y="317.6" font-size="12.5" class="cal" textLength="8.2" lengthAdjust="spacingAndGlyphs">2</text>
<text x="2.9" y="295.6" font-size="12.5" class="cal" textLength="28.3" lengthAdjust="spacingAndGlyphs">2.02</text>
<text x="42.2" y="448.6" font-size="12.7" class="cal" textLength="8.3" lengthAdjust="spacingAndGlyphs">0</text>
<text x="102.6" y="448.6" font-size="12.7" class="cal" textLength="8.3" lengthAdjust="spacingAndGlyphs">5</text>
<text x="159.5" y="448.6" font-size="12.7" class="cal" textLength="15.4" lengthAdjust="spacingAndGlyphs">10</text>
<text x="219.9" y="448.6" font-size="12.7" class="cal" textLength="15.4" lengthAdjust="spacingAndGlyphs">15</text>
<text x="417.4" y="365.4" font-size="12.6" class="leg" textLength="107" lengthAdjust="spacingAndGlyphs">DIC noisy (VSG =</text>
<text x="417.4" y="380.4" font-size="12.6" class="leg" textLength="99" lengthAdjust="spacingAndGlyphs">33 px, step 1 px)</text>
<text x="417.4" y="400.5" font-size="12.6" class="leg" textLength="125.2" lengthAdjust="spacingAndGlyphs">DIC not noisy (VSG =</text>
<text x="417.4" y="415.5" font-size="12.6" class="leg" textLength="99" lengthAdjust="spacingAndGlyphs">57 px, step 7 px)</text>
<text x="417.4" y="434.5" font-size="12.6" class="leg" textLength="115.3" lengthAdjust="spacingAndGlyphs">PDDO to noisy DIC</text>
<text x="447.4" y="304.6" font-size="14" class="cal" textLength="10.2" lengthAdjust="spacingAndGlyphs">X</text>
<text x="465.7" y="304.6" font-size="14" class="cal" textLength="37" lengthAdjust="spacingAndGlyphs">[mm]</text>
<text x="262.2" y="296.8" font-size="14.9" class="cal" textLength="10.1" lengthAdjust="spacingAndGlyphs">0</text>
<text x="250.3" y="333" font-size="14.9" class="cal" textLength="22" lengthAdjust="spacingAndGlyphs">−5</text>
<text x="241.9" y="368.7" font-size="14.9" class="cal" textLength="30.4" lengthAdjust="spacingAndGlyphs">−10</text>
<text x="241.6" y="403.8" font-size="14.9" class="cal" textLength="30.7" lengthAdjust="spacingAndGlyphs">−15</text>
<text x="241.3" y="439.5" font-size="14.9" class="cal" textLength="31" lengthAdjust="spacingAndGlyphs">−20</text>
<text x="350.2" y="318" font-size="14" class="cal" textLength="9" lengthAdjust="spacingAndGlyphs">5</text>
<text x="423.8" y="318" font-size="14" class="cal" textLength="16.8" lengthAdjust="spacingAndGlyphs">10</text>
<text x="501.9" y="318" font-size="14" class="cal" textLength="16" lengthAdjust="spacingAndGlyphs">15</text>
<text x="244.9" y="461.4" font-size="14" class="cal" textLength="28.4" lengthAdjust="spacingAndGlyphs">×10</text>
<text x="273.2" y="457.3" font-size="9.8" class="cal" textLength="12" lengthAdjust="spacingAndGlyphs">−3</text>
<text x="289.2" y="448.4" font-size="14.5" class="cal" textLength="7" lengthAdjust="spacingAndGlyphs">ε</text>
<text x="296.3" y="452.5" font-size="9.5" class="cal" textLength="5" lengthAdjust="spacingAndGlyphs">x</text>
<text x="107.1" y="499" font-size="14" class="ser" textLength="15.8" lengthAdjust="spacingAndGlyphs">(<tspan font-weight="bold">a</tspan>)</text>
<text x="441.3" y="499" font-size="14" class="ser" textLength="17.4" lengthAdjust="spacingAndGlyphs">(<tspan font-weight="bold">b</tspan>)</text>
</svg></body></html>
